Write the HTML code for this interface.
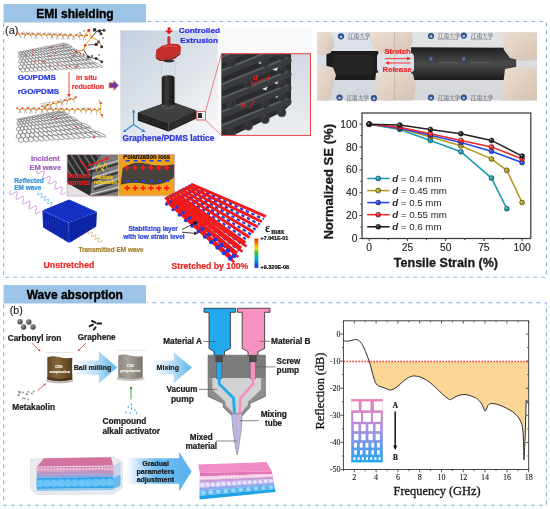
<!DOCTYPE html><html><head><meta charset="utf-8"><style>html,body{margin:0;padding:0;background:#fff;}body{width:550px;height:509px;overflow:hidden;}svg{display:block;}</style></head><body><svg width="550" height="509" viewBox="0 0 550 509"><rect width="550" height="509" fill="#fff"/><defs>
<linearGradient id="rbg" x1="0" y1="0" x2="0.8" y2="1">
 <stop offset="0" stop-color="#c4cfdf"/><stop offset="0.5" stop-color="#dbe1e8"/><stop offset="0.85" stop-color="#eef0f3"/><stop offset="1" stop-color="#f6f7f8"/>
</linearGradient>
<linearGradient id="zbg" x1="0" y1="0" x2="0" y2="1">
 <stop offset="0" stop-color="#d3d9e3"/><stop offset="1" stop-color="#eceef0"/>
</linearGradient>
<linearGradient id="cbar" x1="0" y1="0" x2="0" y2="1">
 <stop offset="0" stop-color="#ff1a00"/><stop offset="0.18" stop-color="#ff8c00"/><stop offset="0.32" stop-color="#f0e000"/>
 <stop offset="0.5" stop-color="#30c030"/><stop offset="0.7" stop-color="#00b0e0"/><stop offset="1" stop-color="#1020e0"/>
</linearGradient>
<linearGradient id="barrow" x1="0" y1="0" x2="1" y2="0">
 <stop offset="0" stop-color="#ffffff"/><stop offset="0.55" stop-color="#b8dcf6"/><stop offset="1" stop-color="#5ab4ee"/>
</linearGradient>
<linearGradient id="barrow2" x1="0" y1="0" x2="1" y2="0">
 <stop offset="0" stop-color="#ffffff"/><stop offset="0.5" stop-color="#bfe0f7"/><stop offset="1" stop-color="#5cb6ef"/>
</linearGradient>
<linearGradient id="barrow3" x1="0" y1="0" x2="1" y2="0">
 <stop offset="0" stop-color="#ffffff"/><stop offset="0.22" stop-color="#b6dbf6"/><stop offset="0.45" stop-color="#70bcf0"/><stop offset="1" stop-color="#5ab2ee"/>
</linearGradient>
<linearGradient id="strip" x1="0" y1="0" x2="0" y2="1">
 <stop offset="0" stop-color="#1e1e1e"/><stop offset="0.5" stop-color="#4a4a4a"/><stop offset="1" stop-color="#1c1c1c"/>
</linearGradient>
<linearGradient id="col" x1="0" y1="0" x2="1" y2="0">
 <stop offset="0" stop-color="#1a1a1a"/><stop offset="0.35" stop-color="#3a3a3a"/><stop offset="1" stop-color="#141414"/>
</linearGradient>
<linearGradient id="brown" x1="0" y1="0" x2="1" y2="0">
 <stop offset="0" stop-color="#614826"/><stop offset="0.4" stop-color="#86683c"/><stop offset="1" stop-color="#543c1c"/>
</linearGradient>
<linearGradient id="grayb" x1="0" y1="0" x2="1" y2="0">
 <stop offset="0" stop-color="#8c8680"/><stop offset="0.4" stop-color="#a8a29a"/><stop offset="1" stop-color="#7a746e"/>
</linearGradient>
<linearGradient id="inset" x1="0" y1="0" x2="0" y2="1">
 <stop offset="0" stop-color="#f27cb6"/><stop offset="0.5" stop-color="#a58fe0"/><stop offset="1" stop-color="#1fa6f2"/>
</linearGradient>
</defs>
<rect x="3.5" y="4" width="142.5" height="18.5" fill="#9DC3E6"/>
<text x="75.00" y="17.60" font-family="'Liberation Sans', Arial, sans-serif" font-size="12" font-weight="bold" fill="#000" stroke="#000" stroke-width="0.35" text-anchor="middle" >EMI shielding</text>
<path d="M3.6,23 V277.3 H546.4 V21.5 H147" fill="none" stroke="#8fb5e3" stroke-width="1.1" stroke-dasharray="4 4"/>
<text x="5.00" y="33.50" font-family="'Liberation Sans', Arial, sans-serif" font-size="11" font-weight="normal" fill="#222" stroke="#222" stroke-width="0.12" text-anchor="start" >(a)</text>
<polygon points="18.0,52.0 66.0,42.5 104.0,67.5 19.0,72.5" fill="#f4f4f4"/>
<path d="M19.2,51.8 L20.5,51.8 L20.6,52.7 L19.4,53.5 L18.1,53.2 L18.0,52.3Z M21.7,51.3 L23.0,51.3 L23.2,52.2 L22.0,53.0 L20.6,52.7 L20.5,51.8Z M24.2,50.8 L25.5,50.8 L25.8,51.7 L24.6,52.6 L23.2,52.2 L23.0,51.3Z M26.6,50.3 L28.0,50.3 L28.3,51.3 L27.3,52.1 L25.8,51.7 L25.5,50.8Z M29.1,49.8 L30.4,49.8 L30.9,50.8 L29.9,51.6 L28.3,51.3 L28.0,50.3Z M31.5,49.3 L32.9,49.4 L33.5,50.3 L32.5,51.2 L30.9,50.8 L30.4,49.8Z M34.0,48.8 L35.4,48.9 L36.0,49.9 L35.1,50.7 L33.5,50.3 L32.9,49.4Z M36.5,48.3 L37.9,48.4 L38.6,49.4 L37.7,50.2 L36.0,49.9 L35.4,48.9Z M38.9,47.9 L40.4,47.9 L41.2,48.9 L40.4,49.8 L38.6,49.4 L37.9,48.4Z M41.4,47.4 L42.9,47.4 L43.8,48.4 L43.0,49.3 L41.2,48.9 L40.4,47.9Z M43.8,46.9 L45.4,46.9 L46.3,48.0 L45.6,48.8 L43.8,48.4 L42.9,47.4Z M46.3,46.4 L47.8,46.5 L48.9,47.5 L48.2,48.3 L46.3,48.0 L45.4,46.9Z M48.8,45.9 L50.3,46.0 L51.5,47.0 L50.9,47.9 L48.9,47.5 L47.8,46.5Z M51.2,45.4 L52.8,45.5 L54.0,46.5 L53.5,47.4 L51.5,47.0 L50.3,46.0Z M53.7,44.9 L55.3,45.0 L56.6,46.1 L56.1,46.9 L54.0,46.5 L52.8,45.5Z M56.2,44.4 L57.8,44.5 L59.2,45.6 L58.7,46.5 L56.6,46.1 L55.3,45.0Z M58.6,44.0 L60.3,44.0 L61.7,45.1 L61.3,46.0 L59.2,45.6 L57.8,44.5Z M61.1,43.5 L62.8,43.6 L64.3,44.6 L64.0,45.5 L61.7,45.1 L60.3,44.0Z M63.5,43.0 L65.2,43.1 L66.9,44.2 L66.6,45.1 L64.3,44.6 L62.8,43.6Z M20.6,52.7 L22.0,53.0 L22.3,54.3 L21.0,55.2 L19.5,54.8 L19.4,53.5Z M23.2,52.2 L24.6,52.6 L25.0,53.9 L23.8,54.8 L22.3,54.3 L22.0,53.0Z M25.8,51.7 L27.3,52.1 L27.7,53.4 L26.6,54.3 L25.0,53.9 L24.6,52.6Z M28.3,51.3 L29.9,51.6 L30.5,52.9 L29.4,53.9 L27.7,53.4 L27.3,52.1Z M30.9,50.8 L32.5,51.2 L33.2,52.5 L32.2,53.4 L30.5,52.9 L29.9,51.6Z M33.5,50.3 L35.1,50.7 L35.9,52.0 L35.0,53.0 L33.2,52.5 L32.5,51.2Z M36.0,49.9 L37.7,50.2 L38.7,51.6 L37.8,52.6 L35.9,52.0 L35.1,50.7Z M38.6,49.4 L40.4,49.8 L41.4,51.1 L40.6,52.1 L38.7,51.6 L37.7,50.2Z M41.2,48.9 L43.0,49.3 L44.2,50.7 L43.4,51.7 L41.4,51.1 L40.4,49.8Z M43.8,48.4 L45.6,48.8 L46.9,50.2 L46.2,51.2 L44.2,50.7 L43.0,49.3Z M46.3,48.0 L48.2,48.3 L49.6,49.8 L49.0,50.8 L46.9,50.2 L45.6,48.8Z M48.9,47.5 L50.9,47.9 L52.4,49.3 L51.8,50.3 L49.6,49.8 L48.2,48.3Z M51.5,47.0 L53.5,47.4 L55.1,48.9 L54.6,49.9 L52.4,49.3 L50.9,47.9Z M54.0,46.5 L56.1,46.9 L57.8,48.4 L57.4,49.4 L55.1,48.9 L53.5,47.4Z M56.6,46.1 L58.7,46.5 L60.6,48.0 L60.2,49.0 L57.8,48.4 L56.1,46.9Z M59.2,45.6 L61.3,46.0 L63.3,47.5 L63.0,48.5 L60.6,48.0 L58.7,46.5Z M61.7,45.1 L64.0,45.5 L66.1,47.0 L65.8,48.1 L63.3,47.5 L61.3,46.0Z M64.3,44.6 L66.6,45.1 L68.8,46.6 L68.6,47.7 L66.1,47.0 L64.0,45.5Z M66.9,44.2 L69.2,44.6 L71.5,46.1 L71.4,47.2 L68.8,46.6 L66.6,45.1Z M19.5,54.8 L21.0,55.2 L21.2,56.7 L19.8,57.7 L18.3,57.2 L18.2,55.7Z M22.3,54.3 L23.8,54.8 L24.1,56.3 L22.8,57.3 L21.2,56.7 L21.0,55.2Z M25.0,53.9 L26.6,54.3 L27.1,55.9 L25.8,56.9 L24.1,56.3 L23.8,54.8Z M27.7,53.4 L29.4,53.9 L30.0,55.4 L28.8,56.5 L27.1,55.9 L26.6,54.3Z M30.5,52.9 L32.2,53.4 L32.9,55.0 L31.8,56.1 L30.0,55.4 L29.4,53.9Z M33.2,52.5 L35.0,53.0 L35.9,54.6 L34.9,55.6 L32.9,55.0 L32.2,53.4Z M35.9,52.0 L37.8,52.6 L38.8,54.2 L37.9,55.2 L35.9,54.6 L35.0,53.0Z M38.7,51.6 L40.6,52.1 L41.8,53.7 L40.9,54.8 L38.8,54.2 L37.8,52.6Z M41.4,51.1 L43.4,51.7 L44.7,53.3 L43.9,54.4 L41.8,53.7 L40.6,52.1Z M44.2,50.7 L46.2,51.2 L47.6,52.9 L46.9,54.0 L44.7,53.3 L43.4,51.7Z M46.9,50.2 L49.0,50.8 L50.6,52.4 L49.9,53.5 L47.6,52.9 L46.2,51.2Z M49.6,49.8 L51.8,50.3 L53.5,52.0 L52.9,53.1 L50.6,52.4 L49.0,50.8Z M52.4,49.3 L54.6,49.9 L56.5,51.6 L55.9,52.7 L53.5,52.0 L51.8,50.3Z M55.1,48.9 L57.4,49.4 L59.4,51.2 L59.0,52.3 L56.5,51.6 L54.6,49.9Z M57.8,48.4 L60.2,49.0 L62.3,50.7 L62.0,51.9 L59.4,51.2 L57.4,49.4Z M60.6,48.0 L63.0,48.5 L65.3,50.3 L65.0,51.4 L62.3,50.7 L60.2,49.0Z M63.3,47.5 L65.8,48.1 L68.2,49.9 L68.0,51.0 L65.3,50.3 L63.0,48.5Z M66.1,47.0 L68.6,47.7 L71.2,49.4 L71.0,50.6 L68.2,49.9 L65.8,48.1Z M68.8,46.6 L71.4,47.2 L74.1,49.0 L74.0,50.2 L71.2,49.4 L68.6,47.7Z M21.2,56.7 L22.8,57.3 L23.1,59.0 L21.7,60.1 L20.0,59.4 L19.8,57.7Z M24.1,56.3 L25.8,56.9 L26.3,58.6 L24.9,59.7 L23.1,59.0 L22.8,57.3Z M27.1,55.9 L28.8,56.5 L29.5,58.2 L28.2,59.3 L26.3,58.6 L25.8,56.9Z M30.0,55.4 L31.8,56.1 L32.6,57.8 L31.4,58.9 L29.5,58.2 L28.8,56.5Z M32.9,55.0 L34.9,55.6 L35.8,57.4 L34.6,58.5 L32.6,57.8 L31.8,56.1Z M35.9,54.6 L37.9,55.2 L39.0,57.0 L37.9,58.1 L35.8,57.4 L34.9,55.6Z M38.8,54.2 L40.9,54.8 L42.1,56.6 L41.1,57.7 L39.0,57.0 L37.9,55.2Z M41.8,53.7 L43.9,54.4 L45.3,56.2 L44.4,57.3 L42.1,56.6 L40.9,54.8Z M44.7,53.3 L46.9,54.0 L48.4,55.8 L47.6,57.0 L45.3,56.2 L43.9,54.4Z M47.6,52.9 L49.9,53.5 L51.6,55.4 L50.9,56.6 L48.4,55.8 L46.9,54.0Z M50.6,52.4 L52.9,53.1 L54.8,55.0 L54.1,56.2 L51.6,55.4 L49.9,53.5Z M53.5,52.0 L55.9,52.7 L57.9,54.6 L57.4,55.8 L54.8,55.0 L52.9,53.1Z M56.5,51.6 L59.0,52.3 L61.1,54.2 L60.6,55.4 L57.9,54.6 L55.9,52.7Z M59.4,51.2 L62.0,51.9 L64.3,53.8 L63.9,55.0 L61.1,54.2 L59.0,52.3Z M62.3,50.7 L65.0,51.4 L67.4,53.4 L67.1,54.6 L64.3,53.8 L62.0,51.9Z M65.3,50.3 L68.0,51.0 L70.6,53.0 L70.4,54.2 L67.4,53.4 L65.0,51.4Z M68.2,49.9 L71.0,50.6 L73.8,52.6 L73.6,53.8 L70.6,53.0 L68.0,51.0Z M71.2,49.4 L74.0,50.2 L76.9,52.2 L76.8,53.4 L73.8,52.6 L71.0,50.6Z M74.1,49.0 L77.0,49.8 L80.1,51.8 L80.1,53.0 L76.9,52.2 L74.0,50.2Z M20.0,59.4 L21.7,60.1 L21.9,61.9 L20.3,63.0 L18.5,62.3 L18.4,60.5Z M23.1,59.0 L24.9,59.7 L25.3,61.5 L23.8,62.7 L21.9,61.9 L21.7,60.1Z M26.3,58.6 L28.2,59.3 L28.7,61.2 L27.3,62.3 L25.3,61.5 L24.9,59.7Z M29.5,58.2 L31.4,58.9 L32.2,60.8 L30.8,62.0 L28.7,61.2 L28.2,59.3Z M32.6,57.8 L34.6,58.5 L35.6,60.4 L34.3,61.6 L32.2,60.8 L31.4,58.9Z M35.8,57.4 L37.9,58.1 L39.0,60.1 L37.8,61.2 L35.6,60.4 L34.6,58.5Z M39.0,57.0 L41.1,57.7 L42.4,59.7 L41.3,60.9 L39.0,60.1 L37.9,58.1Z M42.1,56.6 L44.4,57.3 L45.8,59.3 L44.8,60.5 L42.4,59.7 L41.1,57.7Z M45.3,56.2 L47.6,57.0 L49.2,58.9 L48.3,60.2 L45.8,59.3 L44.4,57.3Z M48.4,55.8 L50.9,56.6 L52.6,58.6 L51.8,59.8 L49.2,58.9 L47.6,57.0Z M51.6,55.4 L54.1,56.2 L56.1,58.2 L55.3,59.4 L52.6,58.6 L50.9,56.6Z M54.8,55.0 L57.4,55.8 L59.5,57.8 L58.8,59.1 L56.1,58.2 L54.1,56.2Z M57.9,54.6 L60.6,55.4 L62.9,57.5 L62.3,58.7 L59.5,57.8 L57.4,55.8Z M61.1,54.2 L63.9,55.0 L66.3,57.1 L65.8,58.4 L62.9,57.5 L60.6,55.4Z M64.3,53.8 L67.1,54.6 L69.7,56.7 L69.3,58.0 L66.3,57.1 L63.9,55.0Z M67.4,53.4 L70.4,54.2 L73.1,56.3 L72.8,57.6 L69.7,56.7 L67.1,54.6Z M70.6,53.0 L73.6,53.8 L76.5,56.0 L76.3,57.3 L73.1,56.3 L70.4,54.2Z M73.8,52.6 L76.8,53.4 L79.9,55.6 L79.8,56.9 L76.5,56.0 L73.6,53.8Z M76.9,52.2 L80.1,53.0 L83.4,55.2 L83.3,56.5 L79.9,55.6 L76.8,53.4Z M21.9,61.9 L23.8,62.7 L24.2,64.6 L22.5,65.8 L20.5,65.0 L20.3,63.0Z M25.3,61.5 L27.3,62.3 L27.8,64.3 L26.2,65.5 L24.2,64.6 L23.8,62.7Z M28.7,61.2 L30.8,62.0 L31.5,64.0 L30.0,65.2 L27.8,64.3 L27.3,62.3Z M32.2,60.8 L34.3,61.6 L35.2,63.6 L33.8,64.8 L31.5,64.0 L30.8,62.0Z M35.6,60.4 L37.8,61.2 L38.9,63.3 L37.5,64.5 L35.2,63.6 L34.3,61.6Z M39.0,60.1 L41.3,60.9 L42.6,63.0 L41.3,64.2 L38.9,63.3 L37.8,61.2Z M42.4,59.7 L44.8,60.5 L46.2,62.6 L45.1,63.9 L42.6,63.0 L41.3,60.9Z M45.8,59.3 L48.3,60.2 L49.9,62.3 L48.9,63.5 L46.2,62.6 L44.8,60.5Z M49.2,58.9 L51.8,59.8 L53.6,61.9 L52.6,63.2 L49.9,62.3 L48.3,60.2Z M52.6,58.6 L55.3,59.4 L57.3,61.6 L56.4,62.9 L53.6,61.9 L51.8,59.8Z M56.1,58.2 L58.8,59.1 L61.0,61.3 L60.2,62.5 L57.3,61.6 L55.3,59.4Z M59.5,57.8 L62.3,58.7 L64.6,60.9 L63.9,62.2 L61.0,61.3 L58.8,59.1Z M62.9,57.5 L65.8,58.4 L68.3,60.6 L67.7,61.9 L64.6,60.9 L62.3,58.7Z M66.3,57.1 L69.3,58.0 L72.0,60.2 L71.5,61.6 L68.3,60.6 L65.8,58.4Z M69.7,56.7 L72.8,57.6 L75.7,59.9 L75.3,61.2 L72.0,60.2 L69.3,58.0Z M73.1,56.3 L76.3,57.3 L79.4,59.6 L79.0,60.9 L75.7,59.9 L72.8,57.6Z M76.5,56.0 L79.8,56.9 L83.0,59.2 L82.8,60.6 L79.4,59.6 L76.3,57.3Z M79.9,55.6 L83.3,56.5 L86.7,58.9 L86.6,60.3 L83.0,59.2 L79.8,56.9Z M83.4,55.2 L86.8,56.2 L90.4,58.5 L90.3,59.9 L86.7,58.9 L83.3,56.5Z M20.5,65.0 L22.5,65.8 L22.8,67.9 L20.9,69.1 L18.8,68.2 L18.7,66.2Z M24.2,64.6 L26.2,65.5 L26.7,67.6 L24.9,68.8 L22.8,67.9 L22.5,65.8Z M27.8,64.3 L30.0,65.2 L30.7,67.3 L29.0,68.5 L26.7,67.6 L26.2,65.5Z M31.5,64.0 L33.8,64.8 L34.6,67.0 L33.0,68.2 L30.7,67.3 L30.0,65.2Z M35.2,63.6 L37.5,64.5 L38.6,66.7 L37.1,67.9 L34.6,67.0 L33.8,64.8Z M38.9,63.3 L41.3,64.2 L42.6,66.4 L41.2,67.6 L38.6,66.7 L37.5,64.5Z M42.6,63.0 L45.1,63.9 L46.5,66.1 L45.2,67.3 L42.6,66.4 L41.3,64.2Z M46.2,62.6 L48.9,63.5 L50.5,65.8 L49.3,67.1 L46.5,66.1 L45.1,63.9Z M49.9,62.3 L52.6,63.2 L54.4,65.5 L53.3,66.8 L50.5,65.8 L48.9,63.5Z M53.6,61.9 L56.4,62.9 L58.4,65.2 L57.4,66.5 L54.4,65.5 L52.6,63.2Z M57.3,61.6 L60.2,62.5 L62.4,64.8 L61.5,66.2 L58.4,65.2 L56.4,62.9Z M61.0,61.3 L63.9,62.2 L66.3,64.5 L65.5,65.9 L62.4,64.8 L60.2,62.5Z M64.6,60.9 L67.7,61.9 L70.3,64.2 L69.6,65.6 L66.3,64.5 L63.9,62.2Z M68.3,60.6 L71.5,61.6 L74.2,63.9 L73.6,65.3 L70.3,64.2 L67.7,61.9Z M72.0,60.2 L75.3,61.2 L78.2,63.6 L77.7,65.0 L74.2,63.9 L71.5,61.6Z M75.7,59.9 L79.0,60.9 L82.2,63.3 L81.7,64.7 L78.2,63.6 L75.3,61.2Z M79.4,59.6 L82.8,60.6 L86.1,63.0 L85.8,64.4 L82.2,63.3 L79.0,60.9Z M83.0,59.2 L86.6,60.3 L90.1,62.7 L89.9,64.1 L86.1,63.0 L82.8,60.6Z M86.7,58.9 L90.3,59.9 L94.0,62.4 L93.9,63.8 L90.1,62.7 L86.6,60.3Z M22.8,67.9 L24.9,68.8 L25.3,71.0 L23.4,72.2 L21.1,71.3 L20.9,69.1Z M26.7,67.6 L29.0,68.5 L29.6,70.7 L27.7,72.0 L25.3,71.0 L24.9,68.8Z M30.7,67.3 L33.0,68.2 L33.8,70.5 L32.1,71.7 L29.6,70.7 L29.0,68.5Z M34.6,67.0 L37.1,67.9 L38.1,70.2 L36.4,71.5 L33.8,70.5 L33.0,68.2Z M38.6,66.7 L41.2,67.6 L42.4,69.9 L40.8,71.2 L38.1,70.2 L37.1,67.9Z M42.6,66.4 L45.2,67.3 L46.6,69.7 L45.2,71.0 L42.4,69.9 L41.2,67.6Z M46.5,66.1 L49.3,67.1 L50.9,69.4 L49.5,70.7 L46.6,69.7 L45.2,67.3Z M50.5,65.8 L53.3,66.8 L55.1,69.1 L53.9,70.4 L50.9,69.4 L49.3,67.1Z M54.4,65.5 L57.4,66.5 L59.4,68.8 L58.2,70.2 L55.1,69.1 L53.3,66.8Z M58.4,65.2 L61.5,66.2 L63.6,68.6 L62.6,69.9 L59.4,68.8 L57.4,66.5Z M62.4,64.8 L65.5,65.9 L67.9,68.3 L66.9,69.7 L63.6,68.6 L61.5,66.2Z M66.3,64.5 L69.6,65.6 L72.2,68.0 L71.3,69.4 L67.9,68.3 L65.5,65.9Z M70.3,64.2 L73.6,65.3 L76.4,67.8 L75.7,69.2 L72.2,68.0 L69.6,65.6Z M74.2,63.9 L77.7,65.0 L80.7,67.5 L80.0,68.9 L76.4,67.8 L73.6,65.3Z M78.2,63.6 L81.7,64.7 L84.9,67.2 L84.4,68.7 L80.7,67.5 L77.7,65.0Z M82.2,63.3 L85.8,64.4 L89.2,67.0 L88.7,68.4 L84.9,67.2 L81.7,64.7Z M86.1,63.0 L89.9,64.1 L93.4,66.7 L93.1,68.1 L89.2,67.0 L85.8,64.4Z M90.1,62.7 L93.9,63.8 L97.7,66.4 L97.5,67.9 L93.4,66.7 L89.9,64.1Z M94.0,62.4 L98.0,63.5 L102.0,66.2 L101.8,67.6 L97.7,66.4 L93.9,63.8Z" fill="none" stroke="#7a7a7a" stroke-width="0.6"/>
<circle cx="34.8" cy="61.5" r="0.75" fill="#e02828"/>
<circle cx="44.6" cy="61.9" r="0.75" fill="#e02828"/>
<circle cx="49.6" cy="47.6" r="0.75" fill="#e02828"/>
<circle cx="19.9" cy="69.1" r="0.75" fill="#e02828"/>
<circle cx="32.9" cy="54.6" r="0.75" fill="#e02828"/>
<circle cx="83.6" cy="54.3" r="0.75" fill="#e02828"/>
<circle cx="73.4" cy="55.6" r="0.75" fill="#e02828"/>
<circle cx="52.4" cy="49.4" r="0.75" fill="#e02828"/>
<circle cx="69.7" cy="66.2" r="0.75" fill="#e02828"/>
<circle cx="58.2" cy="64.0" r="0.75" fill="#e02828"/>
<circle cx="51.9" cy="47.1" r="0.75" fill="#e02828"/>
<circle cx="71.6" cy="58.9" r="0.75" fill="#e02828"/>
<circle cx="32.8" cy="49.8" r="0.75" fill="#e02828"/>
<circle cx="75.2" cy="55.3" r="0.75" fill="#e02828"/>
<circle cx="76.8" cy="66.0" r="0.75" fill="#e02828"/>
<circle cx="77.5" cy="67.1" r="0.75" fill="#e02828"/>
<circle cx="49.5" cy="66.1" r="0.75" fill="#e02828"/>
<circle cx="55.7" cy="68.8" r="0.75" fill="#e02828"/>
<circle cx="63.5" cy="46.0" r="0.75" fill="#e02828"/>
<circle cx="25.8" cy="55.3" r="0.75" fill="#e02828"/>
<circle cx="80.4" cy="53.7" r="0.75" fill="#e02828"/>
<circle cx="55.4" cy="53.1" r="0.75" fill="#e02828"/>
<circle cx="50.0" cy="56.0" r="0.75" fill="#e02828"/>
<circle cx="43.0" cy="61.6" r="0.75" fill="#e02828"/>
<circle cx="66.5" cy="67.4" r="0.75" fill="#e02828"/>
<circle cx="75.1" cy="67.4" r="0.75" fill="#e02828"/>
<polygon points="17.0,119.0 62.0,110.5 108.0,137.0 16.0,143.0" fill="#f4f4f4"/>
<path d="M18.3,118.8 L19.6,118.7 L19.6,119.5 L18.3,120.3 L17.0,120.0 L17.0,119.2Z M20.9,118.3 L22.2,118.2 L22.3,119.0 L21.1,119.8 L19.6,119.5 L19.6,118.7Z M23.4,117.8 L24.8,117.7 L25.0,118.6 L23.8,119.3 L22.3,119.0 L22.2,118.2Z M26.0,117.3 L27.4,117.3 L27.7,118.1 L26.5,118.9 L25.0,118.6 L24.8,117.7Z M28.6,116.8 L30.0,116.8 L30.4,117.6 L29.3,118.4 L27.7,118.1 L27.4,117.3Z M31.1,116.3 L32.5,116.3 L33.1,117.1 L32.0,117.9 L30.4,117.6 L30.0,116.8Z M33.7,115.8 L35.1,115.8 L35.7,116.6 L34.8,117.4 L33.1,117.1 L32.5,116.3Z M36.3,115.4 L37.7,115.3 L38.4,116.2 L37.5,117.0 L35.7,116.6 L35.1,115.8Z M38.9,114.9 L40.3,114.8 L41.1,115.7 L40.3,116.5 L38.4,116.2 L37.7,115.3Z M41.4,114.4 L42.9,114.3 L43.8,115.2 L43.0,116.0 L41.1,115.7 L40.3,114.8Z M44.0,113.9 L45.5,113.9 L46.5,114.7 L45.7,115.5 L43.8,115.2 L42.9,114.3Z M46.6,113.4 L48.1,113.4 L49.2,114.2 L48.5,115.1 L46.5,114.7 L45.5,113.9Z M49.1,112.9 L50.7,112.9 L51.8,113.8 L51.2,114.6 L49.2,114.2 L48.1,113.4Z M51.7,112.4 L53.3,112.4 L54.5,113.3 L54.0,114.1 L51.8,113.8 L50.7,112.9Z M54.3,112.0 L55.9,111.9 L57.2,112.8 L56.7,113.6 L54.5,113.3 L53.3,112.4Z M56.9,111.5 L58.5,111.4 L59.9,112.3 L59.5,113.1 L57.2,112.8 L55.9,111.9Z M59.4,111.0 L61.1,111.0 L62.6,111.8 L62.2,112.7 L59.9,112.3 L58.5,111.4Z M19.6,119.5 L21.1,119.8 L21.2,121.1 L19.8,122.1 L18.3,121.6 L18.3,120.3Z M22.3,119.0 L23.8,119.3 L24.1,120.6 L22.8,121.6 L21.2,121.1 L21.1,119.8Z M25.0,118.6 L26.5,118.9 L27.0,120.2 L25.8,121.2 L24.1,120.6 L23.8,119.3Z M27.7,118.1 L29.3,118.4 L29.9,119.7 L28.7,120.7 L27.0,120.2 L26.5,118.9Z M30.4,117.6 L32.0,117.9 L32.8,119.2 L31.7,120.2 L29.9,119.7 L29.3,118.4Z M33.1,117.1 L34.8,117.4 L35.6,118.8 L34.7,119.8 L32.8,119.2 L32.0,117.9Z M35.7,116.6 L37.5,117.0 L38.5,118.3 L37.6,119.3 L35.6,118.8 L34.8,117.4Z M38.4,116.2 L40.3,116.5 L41.4,117.8 L40.6,118.8 L38.5,118.3 L37.5,117.0Z M41.1,115.7 L43.0,116.0 L44.3,117.4 L43.6,118.4 L41.4,117.8 L40.3,116.5Z M43.8,115.2 L45.7,115.5 L47.2,116.9 L46.5,117.9 L44.3,117.4 L43.0,116.0Z M46.5,114.7 L48.5,115.1 L50.1,116.4 L49.5,117.4 L47.2,116.9 L45.7,115.5Z M49.2,114.2 L51.2,114.6 L53.0,116.0 L52.5,117.0 L50.1,116.4 L48.5,115.1Z M51.8,113.8 L54.0,114.1 L55.9,115.5 L55.5,116.5 L53.0,116.0 L51.2,114.6Z M54.5,113.3 L56.7,113.6 L58.7,115.0 L58.4,116.1 L55.9,115.5 L54.0,114.1Z M57.2,112.8 L59.5,113.1 L61.6,114.6 L61.4,115.6 L58.7,115.0 L56.7,113.6Z M59.9,112.3 L62.2,112.7 L64.5,114.1 L64.4,115.1 L61.6,114.6 L59.5,113.1Z M62.6,111.8 L64.9,112.2 L67.4,113.6 L67.3,114.7 L64.5,114.1 L62.2,112.7Z M18.3,121.6 L19.8,122.1 L19.9,123.7 L18.4,124.8 L16.8,124.2 L16.9,122.6Z M21.2,121.1 L22.8,121.6 L23.1,123.3 L21.6,124.4 L19.9,123.7 L19.8,122.1Z M24.1,120.6 L25.8,121.2 L26.2,122.8 L24.9,123.9 L23.1,123.3 L22.8,121.6Z M27.0,120.2 L28.7,120.7 L29.4,122.4 L28.1,123.5 L26.2,122.8 L25.8,121.2Z M29.9,119.7 L31.7,120.2 L32.5,121.9 L31.4,123.0 L29.4,122.4 L28.7,120.7Z M32.8,119.2 L34.7,119.8 L35.7,121.5 L34.6,122.6 L32.5,121.9 L31.7,120.2Z M35.6,118.8 L37.6,119.3 L38.8,121.0 L37.9,122.1 L35.7,121.5 L34.7,119.8Z M38.5,118.3 L40.6,118.8 L42.0,120.5 L41.1,121.7 L38.8,121.0 L37.6,119.3Z M41.4,117.8 L43.6,118.4 L45.1,120.1 L44.4,121.3 L42.0,120.5 L40.6,118.8Z M44.3,117.4 L46.5,117.9 L48.3,119.6 L47.6,120.8 L45.1,120.1 L43.6,118.4Z M47.2,116.9 L49.5,117.4 L51.5,119.2 L50.9,120.4 L48.3,119.6 L46.5,117.9Z M50.1,116.4 L52.5,117.0 L54.6,118.7 L54.1,119.9 L51.5,119.2 L49.5,117.4Z M53.0,116.0 L55.5,116.5 L57.8,118.3 L57.4,119.5 L54.6,118.7 L52.5,117.0Z M55.9,115.5 L58.4,116.1 L60.9,117.8 L60.6,119.0 L57.8,118.3 L55.5,116.5Z M58.7,115.0 L61.4,115.6 L64.1,117.4 L63.9,118.6 L60.9,117.8 L58.4,116.1Z M61.6,114.6 L64.4,115.1 L67.2,116.9 L67.1,118.1 L64.1,117.4 L61.4,115.6Z M64.5,114.1 L67.3,114.7 L70.4,116.5 L70.4,117.7 L67.2,116.9 L64.4,115.1Z M19.9,123.7 L21.6,124.4 L21.9,126.3 L20.2,127.6 L18.4,126.8 L18.4,124.8Z M23.1,123.3 L24.9,123.9 L25.3,125.9 L23.8,127.1 L21.9,126.3 L21.6,124.4Z M26.2,122.8 L28.1,123.5 L28.8,125.4 L27.4,126.7 L25.3,125.9 L24.9,123.9Z M29.4,122.4 L31.4,123.0 L32.3,125.0 L30.9,126.3 L28.8,125.4 L28.1,123.5Z M32.5,121.9 L34.6,122.6 L35.7,124.6 L34.5,125.8 L32.3,125.0 L31.4,123.0Z M35.7,121.5 L37.9,122.1 L39.2,124.1 L38.1,125.4 L35.7,124.6 L34.6,122.6Z M38.8,121.0 L41.1,121.7 L42.7,123.7 L41.7,125.0 L39.2,124.1 L37.9,122.1Z M42.0,120.5 L44.4,121.3 L46.1,123.3 L45.3,124.5 L42.7,123.7 L41.1,121.7Z M45.1,120.1 L47.6,120.8 L49.6,122.8 L48.8,124.1 L46.1,123.3 L44.4,121.3Z M48.3,119.6 L50.9,120.4 L53.0,122.4 L52.4,123.7 L49.6,122.8 L47.6,120.8Z M51.5,119.2 L54.1,119.9 L56.5,121.9 L56.0,123.2 L53.0,122.4 L50.9,120.4Z M54.6,118.7 L57.4,119.5 L60.0,121.5 L59.6,122.8 L56.5,121.9 L54.1,119.9Z M57.8,118.3 L60.6,119.0 L63.4,121.1 L63.1,122.4 L60.0,121.5 L57.4,119.5Z M60.9,117.8 L63.9,118.6 L66.9,120.6 L66.7,121.9 L63.4,121.1 L60.6,119.0Z M64.1,117.4 L67.1,118.1 L70.4,120.2 L70.3,121.5 L66.9,120.6 L63.9,118.6Z M67.2,116.9 L70.4,117.7 L73.8,119.8 L73.9,121.1 L70.4,120.2 L67.1,118.1Z M70.4,116.5 L73.6,117.2 L77.3,119.3 L77.5,120.7 L73.8,119.8 L70.4,117.7Z M18.4,126.8 L20.2,127.6 L20.4,129.7 L18.5,131.1 L16.5,130.2 L16.6,128.0Z M21.9,126.3 L23.8,127.1 L24.2,129.3 L22.4,130.7 L20.4,129.7 L20.2,127.6Z M25.3,125.9 L27.4,126.7 L28.0,128.9 L26.4,130.3 L24.2,129.3 L23.8,127.1Z M28.8,125.4 L30.9,126.3 L31.8,128.5 L30.3,129.8 L28.0,128.9 L27.4,126.7Z M32.3,125.0 L34.5,125.8 L35.6,128.1 L34.2,129.4 L31.8,128.5 L30.9,126.3Z M35.7,124.6 L38.1,125.4 L39.5,127.6 L38.2,129.0 L35.6,128.1 L34.5,125.8Z M39.2,124.1 L41.7,125.0 L43.3,127.2 L42.1,128.6 L39.5,127.6 L38.1,125.4Z M42.7,123.7 L45.3,124.5 L47.1,126.8 L46.1,128.2 L43.3,127.2 L41.7,125.0Z M46.1,123.3 L48.8,124.1 L50.9,126.4 L50.0,127.8 L47.1,126.8 L45.3,124.5Z M49.6,122.8 L52.4,123.7 L54.7,126.0 L54.0,127.4 L50.9,126.4 L48.8,124.1Z M53.0,122.4 L56.0,123.2 L58.6,125.5 L57.9,127.0 L54.7,126.0 L52.4,123.7Z M56.5,121.9 L59.6,122.8 L62.4,125.1 L61.9,126.5 L58.6,125.5 L56.0,123.2Z M60.0,121.5 L63.1,122.4 L66.2,124.7 L65.8,126.1 L62.4,125.1 L59.6,122.8Z M63.4,121.1 L66.7,121.9 L70.0,124.3 L69.8,125.7 L66.2,124.7 L63.1,122.4Z M66.9,120.6 L70.3,121.5 L73.8,123.9 L73.7,125.3 L70.0,124.3 L66.7,121.9Z M70.4,120.2 L73.9,121.1 L77.6,123.4 L77.7,124.9 L73.8,123.9 L70.3,121.5Z M73.8,119.8 L77.5,120.7 L81.5,123.0 L81.6,124.5 L77.6,123.4 L73.9,121.1Z M20.4,129.7 L22.4,130.7 L22.7,133.1 L20.7,134.5 L18.5,133.5 L18.5,131.1Z M24.2,129.3 L26.4,130.3 L26.9,132.7 L25.0,134.1 L22.7,133.1 L22.4,130.7Z M28.0,128.9 L30.3,129.8 L31.1,132.3 L29.4,133.7 L26.9,132.7 L26.4,130.3Z M31.8,128.5 L34.2,129.4 L35.3,131.9 L33.7,133.3 L31.1,132.3 L30.3,129.8Z M35.6,128.1 L38.2,129.0 L39.6,131.5 L38.1,132.9 L35.3,131.9 L34.2,129.4Z M39.5,127.6 L42.1,128.6 L43.8,131.1 L42.4,132.6 L39.6,131.5 L38.2,129.0Z M43.3,127.2 L46.1,128.2 L48.0,130.7 L46.8,132.2 L43.8,131.1 L42.1,128.6Z M47.1,126.8 L50.0,127.8 L52.2,130.3 L51.1,131.8 L48.0,130.7 L46.1,128.2Z M50.9,126.4 L54.0,127.4 L56.4,129.9 L55.5,131.4 L52.2,130.3 L50.0,127.8Z M54.7,126.0 L57.9,127.0 L60.6,129.5 L59.8,131.0 L56.4,129.9 L54.0,127.4Z M58.6,125.5 L61.9,126.5 L64.8,129.1 L64.2,130.6 L60.6,129.5 L57.9,127.0Z M62.4,125.1 L65.8,126.1 L69.0,128.7 L68.5,130.2 L64.8,129.1 L61.9,126.5Z M66.2,124.7 L69.8,125.7 L73.3,128.3 L72.9,129.8 L69.0,128.7 L65.8,126.1Z M70.0,124.3 L73.7,125.3 L77.5,127.9 L77.2,129.4 L73.3,128.3 L69.8,125.7Z M73.8,123.9 L77.7,124.9 L81.7,127.5 L81.6,129.0 L77.5,127.9 L73.7,125.3Z M77.6,123.4 L81.6,124.5 L85.9,127.1 L86.0,128.6 L81.7,127.5 L77.7,124.9Z M81.5,123.0 L85.6,124.1 L90.1,126.7 L90.3,128.3 L85.9,127.1 L81.6,124.5Z M18.5,133.5 L20.7,134.5 L20.9,137.1 L18.6,138.6 L16.2,137.5 L16.3,134.9Z M22.7,133.1 L25.0,134.1 L25.5,136.7 L23.4,138.3 L20.9,137.1 L20.7,134.5Z M26.9,132.7 L29.4,133.7 L30.1,136.3 L28.1,137.9 L25.5,136.7 L25.0,134.1Z M31.1,132.3 L33.7,133.3 L34.8,136.0 L32.9,137.5 L30.1,136.3 L29.4,133.7Z M35.3,131.9 L38.1,132.9 L39.4,135.6 L37.7,137.2 L34.8,136.0 L33.7,133.3Z M39.6,131.5 L42.4,132.6 L44.1,135.2 L42.5,136.8 L39.4,135.6 L38.1,132.9Z M43.8,131.1 L46.8,132.2 L48.7,134.8 L47.3,136.4 L44.1,135.2 L42.4,132.6Z M48.0,130.7 L51.1,131.8 L53.3,134.5 L52.1,136.1 L48.7,134.8 L46.8,132.2Z M52.2,130.3 L55.5,131.4 L58.0,134.1 L56.9,135.7 L53.3,134.5 L51.1,131.8Z M56.4,129.9 L59.8,131.0 L62.6,133.7 L61.7,135.3 L58.0,134.1 L55.5,131.4Z M60.6,129.5 L64.2,130.6 L67.3,133.3 L66.5,135.0 L62.6,133.7 L59.8,131.0Z M64.8,129.1 L68.5,130.2 L71.9,133.0 L71.2,134.6 L67.3,133.3 L64.2,130.6Z M69.0,128.7 L72.9,129.8 L76.5,132.6 L76.0,134.2 L71.9,133.0 L68.5,130.2Z M73.3,128.3 L77.2,129.4 L81.2,132.2 L80.8,133.8 L76.5,132.6 L72.9,129.8Z M77.5,127.9 L81.6,129.0 L85.8,131.8 L85.6,133.5 L81.2,132.2 L77.2,129.4Z M81.7,127.5 L86.0,128.6 L90.5,131.5 L90.4,133.1 L85.8,131.8 L81.6,129.0Z M85.9,127.1 L90.3,128.3 L95.1,131.1 L95.2,132.7 L90.5,131.5 L86.0,128.6Z M20.9,137.1 L23.4,138.3 L23.7,141.0 L21.3,142.7 L18.6,141.4 L18.6,138.6Z M25.5,136.7 L28.1,137.9 L28.8,140.7 L26.5,142.3 L23.7,141.0 L23.4,138.3Z M30.1,136.3 L32.9,137.5 L33.9,140.3 L31.8,142.0 L28.8,140.7 L28.1,137.9Z M34.8,136.0 L37.7,137.2 L39.0,140.0 L37.0,141.6 L33.9,140.3 L32.9,137.5Z M39.4,135.6 L42.5,136.8 L44.1,139.6 L42.3,141.3 L39.0,140.0 L37.7,137.2Z M44.1,135.2 L47.3,136.4 L49.2,139.3 L47.5,140.9 L44.1,139.6 L42.5,136.8Z M48.7,134.8 L52.1,136.1 L54.3,138.9 L52.8,140.6 L49.2,139.3 L47.3,136.4Z M53.3,134.5 L56.9,135.7 L59.4,138.6 L58.1,140.3 L54.3,138.9 L52.1,136.1Z M58.0,134.1 L61.7,135.3 L64.5,138.2 L63.3,139.9 L59.4,138.6 L56.9,135.7Z M62.6,133.7 L66.5,135.0 L69.6,137.9 L68.6,139.6 L64.5,138.2 L61.7,135.3Z M67.3,133.3 L71.2,134.6 L74.7,137.5 L73.8,139.2 L69.6,137.9 L66.5,135.0Z M71.9,133.0 L76.0,134.2 L79.8,137.2 L79.1,138.9 L74.7,137.5 L71.2,134.6Z M76.5,132.6 L80.8,133.8 L84.9,136.8 L84.3,138.5 L79.8,137.2 L76.0,134.2Z M81.2,132.2 L85.6,133.5 L90.0,136.5 L89.6,138.2 L84.9,136.8 L80.8,133.8Z M85.8,131.8 L90.4,133.1 L95.1,136.1 L94.9,137.9 L90.0,136.5 L85.6,133.5Z M90.5,131.5 L95.2,132.7 L100.2,135.8 L100.1,137.5 L95.1,136.1 L90.4,133.1Z M95.1,131.1 L100.0,132.4 L105.3,135.4 L105.4,137.2 L100.2,135.8 L95.2,132.7Z" fill="none" stroke="#7a7a7a" stroke-width="0.65"/>
<circle cx="94.4" cy="137.6" r="0.8" fill="#e02828"/>
<circle cx="52.2" cy="117.5" r="0.8" fill="#e02828"/>
<circle cx="93.8" cy="136.9" r="0.8" fill="#e02828"/>
<circle cx="81.3" cy="126.3" r="0.8" fill="#e02828"/>
<circle cx="56.0" cy="118.4" r="0.8" fill="#e02828"/>
<circle cx="76.3" cy="126.9" r="0.8" fill="#e02828"/>
<polyline points="17.0,33.2 19.7,34.9 22.4,33.4 25.1,35.0 27.8,33.5 30.5,35.2 33.2,33.7 35.8,35.3 38.5,33.8 41.2,35.5 43.9,34.0 46.6,35.6 49.3,34.1 52.0,35.8 54.7,34.3 57.4,36.0 60.1,34.4 62.8,36.1 65.5,34.6 68.2,36.3 70.8,34.7 73.5,36.4 76.2,34.9 78.9,36.6 81.6,35.0 84.3,36.7 87.0,35.2" fill="none" stroke="#e8a630" stroke-width="1.1"/><circle cx="17.0" cy="33.2" r="0.85" fill="#e03a2a"/><line x1="19.7" y1="34.9" x2="18.4" y2="31.7" stroke="#8a8a8a" stroke-width="0.55"/><circle cx="18.4" cy="31.7" r="0.55" fill="#b4b4b4"/><line x1="19.7" y1="34.9" x2="20.9" y2="37.5" stroke="#8a8a8a" stroke-width="0.55"/><circle cx="20.9" cy="37.5" r="0.55" fill="#b4b4b4"/><circle cx="19.7" cy="34.9" r="0.7" fill="#d8a040"/><circle cx="22.4" cy="33.4" r="0.85" fill="#e03a2a"/><line x1="25.1" y1="35.0" x2="23.8" y2="31.8" stroke="#8a8a8a" stroke-width="0.55"/><circle cx="23.8" cy="31.8" r="0.55" fill="#b4b4b4"/><line x1="25.1" y1="35.0" x2="26.6" y2="32.2" stroke="#8a8a8a" stroke-width="0.55"/><circle cx="26.6" cy="32.2" r="0.55" fill="#b4b4b4"/><line x1="25.1" y1="35.0" x2="24.3" y2="38.0" stroke="#8a8a8a" stroke-width="0.55"/><circle cx="24.3" cy="38.0" r="0.55" fill="#b4b4b4"/><circle cx="25.1" cy="35.0" r="0.7" fill="#d8a040"/><circle cx="27.8" cy="33.5" r="0.85" fill="#e03a2a"/><line x1="30.5" y1="35.2" x2="29.2" y2="32.0" stroke="#8a8a8a" stroke-width="0.55"/><circle cx="29.2" cy="32.0" r="0.55" fill="#b4b4b4"/><line x1="30.5" y1="35.2" x2="32.0" y2="32.4" stroke="#8a8a8a" stroke-width="0.55"/><circle cx="32.0" cy="32.4" r="0.55" fill="#b4b4b4"/><line x1="30.5" y1="35.2" x2="31.7" y2="37.8" stroke="#8a8a8a" stroke-width="0.55"/><circle cx="31.7" cy="37.8" r="0.55" fill="#b4b4b4"/><circle cx="30.5" cy="35.2" r="0.7" fill="#d8a040"/><circle cx="33.2" cy="33.7" r="0.85" fill="#e03a2a"/><line x1="35.8" y1="35.3" x2="37.3" y2="32.5" stroke="#8a8a8a" stroke-width="0.55"/><circle cx="37.3" cy="32.5" r="0.55" fill="#b4b4b4"/><line x1="35.8" y1="35.3" x2="35.0" y2="38.3" stroke="#8a8a8a" stroke-width="0.55"/><circle cx="35.0" cy="38.3" r="0.55" fill="#b4b4b4"/><line x1="35.8" y1="35.3" x2="37.0" y2="37.9" stroke="#8a8a8a" stroke-width="0.55"/><circle cx="37.0" cy="37.9" r="0.55" fill="#b4b4b4"/><circle cx="35.8" cy="35.3" r="0.7" fill="#d8a040"/><circle cx="38.5" cy="33.8" r="0.85" fill="#e03a2a"/><line x1="41.2" y1="35.5" x2="39.9" y2="32.3" stroke="#8a8a8a" stroke-width="0.55"/><circle cx="39.9" cy="32.3" r="0.55" fill="#b4b4b4"/><line x1="41.2" y1="35.5" x2="42.4" y2="38.1" stroke="#8a8a8a" stroke-width="0.55"/><circle cx="42.4" cy="38.1" r="0.55" fill="#b4b4b4"/><circle cx="41.2" cy="35.5" r="0.7" fill="#d8a040"/><circle cx="43.9" cy="34.0" r="0.85" fill="#e03a2a"/><line x1="46.6" y1="35.6" x2="45.3" y2="32.4" stroke="#8a8a8a" stroke-width="0.55"/><circle cx="45.3" cy="32.4" r="0.55" fill="#b4b4b4"/><line x1="46.6" y1="35.6" x2="48.1" y2="32.8" stroke="#8a8a8a" stroke-width="0.55"/><circle cx="48.1" cy="32.8" r="0.55" fill="#b4b4b4"/><line x1="46.6" y1="35.6" x2="47.8" y2="38.2" stroke="#8a8a8a" stroke-width="0.55"/><circle cx="47.8" cy="38.2" r="0.55" fill="#b4b4b4"/><circle cx="46.6" cy="35.6" r="0.7" fill="#d8a040"/><circle cx="49.3" cy="34.1" r="0.85" fill="#e03a2a"/><line x1="52.0" y1="35.8" x2="50.7" y2="32.6" stroke="#8a8a8a" stroke-width="0.55"/><circle cx="50.7" cy="32.6" r="0.55" fill="#b4b4b4"/><line x1="52.0" y1="35.8" x2="53.5" y2="33.0" stroke="#8a8a8a" stroke-width="0.55"/><circle cx="53.5" cy="33.0" r="0.55" fill="#b4b4b4"/><line x1="52.0" y1="35.8" x2="51.2" y2="38.8" stroke="#8a8a8a" stroke-width="0.55"/><circle cx="51.2" cy="38.8" r="0.55" fill="#b4b4b4"/><line x1="52.0" y1="35.8" x2="53.2" y2="38.4" stroke="#8a8a8a" stroke-width="0.55"/><circle cx="53.2" cy="38.4" r="0.55" fill="#b4b4b4"/><circle cx="52.0" cy="35.8" r="0.7" fill="#d8a040"/><circle cx="54.7" cy="34.3" r="0.85" fill="#e03a2a"/><line x1="57.4" y1="36.0" x2="56.1" y2="32.8" stroke="#8a8a8a" stroke-width="0.55"/><circle cx="56.1" cy="32.8" r="0.55" fill="#b4b4b4"/><line x1="57.4" y1="36.0" x2="58.9" y2="33.2" stroke="#8a8a8a" stroke-width="0.55"/><circle cx="58.9" cy="33.2" r="0.55" fill="#b4b4b4"/><line x1="57.4" y1="36.0" x2="56.6" y2="39.0" stroke="#8a8a8a" stroke-width="0.55"/><circle cx="56.6" cy="39.0" r="0.55" fill="#b4b4b4"/><line x1="57.4" y1="36.0" x2="58.6" y2="38.6" stroke="#8a8a8a" stroke-width="0.55"/><circle cx="58.6" cy="38.6" r="0.55" fill="#b4b4b4"/><circle cx="57.4" cy="36.0" r="0.7" fill="#d8a040"/><circle cx="60.1" cy="34.4" r="0.85" fill="#e03a2a"/><line x1="62.8" y1="36.1" x2="61.5" y2="32.9" stroke="#8a8a8a" stroke-width="0.55"/><circle cx="61.5" cy="32.9" r="0.55" fill="#b4b4b4"/><line x1="62.8" y1="36.1" x2="64.3" y2="33.3" stroke="#8a8a8a" stroke-width="0.55"/><circle cx="64.3" cy="33.3" r="0.55" fill="#b4b4b4"/><line x1="62.8" y1="36.1" x2="62.0" y2="39.1" stroke="#8a8a8a" stroke-width="0.55"/><circle cx="62.0" cy="39.1" r="0.55" fill="#b4b4b4"/><line x1="62.8" y1="36.1" x2="64.0" y2="38.7" stroke="#8a8a8a" stroke-width="0.55"/><circle cx="64.0" cy="38.7" r="0.55" fill="#b4b4b4"/><circle cx="62.8" cy="36.1" r="0.7" fill="#d8a040"/><circle cx="65.5" cy="34.6" r="0.85" fill="#e03a2a"/><line x1="68.2" y1="36.3" x2="69.7" y2="33.5" stroke="#8a8a8a" stroke-width="0.55"/><circle cx="69.7" cy="33.5" r="0.55" fill="#b4b4b4"/><line x1="68.2" y1="36.3" x2="67.4" y2="39.3" stroke="#8a8a8a" stroke-width="0.55"/><circle cx="67.4" cy="39.3" r="0.55" fill="#b4b4b4"/><line x1="68.2" y1="36.3" x2="69.4" y2="38.9" stroke="#8a8a8a" stroke-width="0.55"/><circle cx="69.4" cy="38.9" r="0.55" fill="#b4b4b4"/><circle cx="68.2" cy="36.3" r="0.7" fill="#d8a040"/><circle cx="70.8" cy="34.7" r="0.85" fill="#e03a2a"/><line x1="73.5" y1="36.4" x2="72.7" y2="39.4" stroke="#8a8a8a" stroke-width="0.55"/><circle cx="72.7" cy="39.4" r="0.55" fill="#b4b4b4"/><line x1="73.5" y1="36.4" x2="74.7" y2="39.0" stroke="#8a8a8a" stroke-width="0.55"/><circle cx="74.7" cy="39.0" r="0.55" fill="#b4b4b4"/><circle cx="73.5" cy="36.4" r="0.7" fill="#d8a040"/><circle cx="76.2" cy="34.9" r="0.85" fill="#e03a2a"/><line x1="78.9" y1="36.6" x2="77.6" y2="33.4" stroke="#8a8a8a" stroke-width="0.55"/><circle cx="77.6" cy="33.4" r="0.55" fill="#b4b4b4"/><line x1="78.9" y1="36.6" x2="80.4" y2="33.8" stroke="#8a8a8a" stroke-width="0.55"/><circle cx="80.4" cy="33.8" r="0.55" fill="#b4b4b4"/><line x1="78.9" y1="36.6" x2="80.1" y2="39.2" stroke="#8a8a8a" stroke-width="0.55"/><circle cx="80.1" cy="39.2" r="0.55" fill="#b4b4b4"/><circle cx="78.9" cy="36.6" r="0.7" fill="#d8a040"/><circle cx="81.6" cy="35.0" r="0.85" fill="#e03a2a"/><line x1="84.3" y1="36.7" x2="85.8" y2="33.9" stroke="#8a8a8a" stroke-width="0.55"/><circle cx="85.8" cy="33.9" r="0.55" fill="#b4b4b4"/><line x1="84.3" y1="36.7" x2="83.5" y2="39.7" stroke="#8a8a8a" stroke-width="0.55"/><circle cx="83.5" cy="39.7" r="0.55" fill="#b4b4b4"/><line x1="84.3" y1="36.7" x2="85.5" y2="39.3" stroke="#8a8a8a" stroke-width="0.55"/><circle cx="85.5" cy="39.3" r="0.55" fill="#b4b4b4"/><circle cx="84.3" cy="36.7" r="0.7" fill="#d8a040"/><circle cx="87.0" cy="35.2" r="0.85" fill="#e03a2a"/>
<g fill="none" stroke-width="1"><polyline points="84,36 88.8,30.3 91.5,37.4 85.2,45.2 83.6,49.9 76,51.5" stroke="#e8a630"/><polyline points="91.5,37.4 99,41 101.7,46.8" stroke="#e8a630"/><polyline points="91.5,37.4 97,31 104,30.3" stroke="#3a3a3a"/><polyline points="83.6,49.9 88.4,57 96.2,58.6 101.7,61.7" stroke="#555"/><polyline points="88,45 96.2,44.4" stroke="#666"/></g>
<circle cx="94.6" cy="29.9" r="1.8" fill="#2a2a2a"/>
<circle cx="99.4" cy="31" r="1.7" fill="#333"/>
<circle cx="101" cy="33.8" r="1.5" fill="#3a3a3a"/>
<circle cx="104" cy="30.3" r="1.5" fill="#444"/>
<circle cx="88.8" cy="30.3" r="1.5" fill="#e02a2a"/>
<circle cx="91.5" cy="37.4" r="1.2" fill="#d89a30"/>
<circle cx="96.2" cy="44.4" r="1.7" fill="#2e2e2e"/>
<circle cx="98.6" cy="42" r="1.5" fill="#555"/>
<circle cx="101.7" cy="46.8" r="1.5" fill="#333"/>
<circle cx="103" cy="38" r="1.1" fill="#999"/>
<circle cx="85.2" cy="45.2" r="1.3" fill="#e02a2a"/>
<circle cx="83.6" cy="49.9" r="1.1" fill="#d89a30"/>
<circle cx="88.4" cy="57" r="1.6" fill="#3a3a3a"/>
<circle cx="92" cy="56" r="1.2" fill="#777"/>
<circle cx="96.2" cy="58.6" r="1.5" fill="#333"/>
<circle cx="101.7" cy="61.7" r="1.5" fill="#444"/>
<circle cx="99" cy="55" r="1.1" fill="#999"/>
<circle cx="76" cy="51.5" r="1.2" fill="#e02a2a"/>
<circle cx="80" cy="33" r="1.0" fill="#999"/>
<circle cx="84" cy="31" r="1.0" fill="#aaa"/>
<polyline points="17.0,108.1 19.8,109.9 22.5,108.2 25.3,110.0 28.1,108.2 30.8,110.1 33.6,108.3 36.4,110.1 39.1,108.4 41.9,110.2 44.7,108.4 47.4,110.3 50.2,108.5 53.0,110.3 55.7,108.6 58.5,110.4 61.3,108.6 64.0,110.5 66.8,108.7 69.6,110.5 72.3,108.8 75.1,110.6 77.9,108.8 80.6,110.7 83.4,108.9 86.2,110.7 88.9,109.0 91.7,110.8 94.5,109.0 97.2,110.9 100.0,109.1" fill="none" stroke="#e8a630" stroke-width="1.1"/><circle cx="17.0" cy="108.1" r="0.85" fill="#e03a2a"/><line x1="19.8" y1="109.9" x2="19.0" y2="112.9" stroke="#8a8a8a" stroke-width="0.55"/><circle cx="19.0" cy="112.9" r="0.55" fill="#b4b4b4"/><line x1="19.8" y1="109.9" x2="21.0" y2="112.5" stroke="#8a8a8a" stroke-width="0.55"/><circle cx="21.0" cy="112.5" r="0.55" fill="#b4b4b4"/><circle cx="19.8" cy="109.9" r="0.7" fill="#d8a040"/><circle cx="22.5" cy="108.2" r="0.85" fill="#e03a2a"/><line x1="25.3" y1="110.0" x2="26.8" y2="107.2" stroke="#8a8a8a" stroke-width="0.55"/><circle cx="26.8" cy="107.2" r="0.55" fill="#b4b4b4"/><line x1="25.3" y1="110.0" x2="24.5" y2="113.0" stroke="#8a8a8a" stroke-width="0.55"/><circle cx="24.5" cy="113.0" r="0.55" fill="#b4b4b4"/><line x1="25.3" y1="110.0" x2="26.5" y2="112.6" stroke="#8a8a8a" stroke-width="0.55"/><circle cx="26.5" cy="112.6" r="0.55" fill="#b4b4b4"/><circle cx="25.3" cy="110.0" r="0.7" fill="#d8a040"/><circle cx="28.1" cy="108.2" r="0.85" fill="#e03a2a"/><line x1="30.8" y1="110.1" x2="29.5" y2="106.9" stroke="#8a8a8a" stroke-width="0.55"/><circle cx="29.5" cy="106.9" r="0.55" fill="#b4b4b4"/><line x1="30.8" y1="110.1" x2="32.3" y2="107.3" stroke="#8a8a8a" stroke-width="0.55"/><circle cx="32.3" cy="107.3" r="0.55" fill="#b4b4b4"/><line x1="30.8" y1="110.1" x2="30.0" y2="113.1" stroke="#8a8a8a" stroke-width="0.55"/><circle cx="30.0" cy="113.1" r="0.55" fill="#b4b4b4"/><line x1="30.8" y1="110.1" x2="32.0" y2="112.7" stroke="#8a8a8a" stroke-width="0.55"/><circle cx="32.0" cy="112.7" r="0.55" fill="#b4b4b4"/><circle cx="30.8" cy="110.1" r="0.7" fill="#d8a040"/><circle cx="33.6" cy="108.3" r="0.85" fill="#e03a2a"/><line x1="36.4" y1="110.1" x2="35.1" y2="106.9" stroke="#8a8a8a" stroke-width="0.55"/><circle cx="35.1" cy="106.9" r="0.55" fill="#b4b4b4"/><line x1="36.4" y1="110.1" x2="37.9" y2="107.3" stroke="#8a8a8a" stroke-width="0.55"/><circle cx="37.9" cy="107.3" r="0.55" fill="#b4b4b4"/><line x1="36.4" y1="110.1" x2="35.6" y2="113.1" stroke="#8a8a8a" stroke-width="0.55"/><circle cx="35.6" cy="113.1" r="0.55" fill="#b4b4b4"/><circle cx="36.4" cy="110.1" r="0.7" fill="#d8a040"/><circle cx="39.1" cy="108.4" r="0.85" fill="#e03a2a"/><line x1="41.9" y1="110.2" x2="43.4" y2="107.4" stroke="#8a8a8a" stroke-width="0.55"/><circle cx="43.4" cy="107.4" r="0.55" fill="#b4b4b4"/><line x1="41.9" y1="110.2" x2="41.1" y2="113.2" stroke="#8a8a8a" stroke-width="0.55"/><circle cx="41.1" cy="113.2" r="0.55" fill="#b4b4b4"/><line x1="41.9" y1="110.2" x2="43.1" y2="112.8" stroke="#8a8a8a" stroke-width="0.55"/><circle cx="43.1" cy="112.8" r="0.55" fill="#b4b4b4"/><circle cx="41.9" cy="110.2" r="0.7" fill="#d8a040"/><circle cx="44.7" cy="108.4" r="0.85" fill="#e03a2a"/><line x1="47.4" y1="110.3" x2="46.1" y2="107.1" stroke="#8a8a8a" stroke-width="0.55"/><circle cx="46.1" cy="107.1" r="0.55" fill="#b4b4b4"/><line x1="47.4" y1="110.3" x2="48.9" y2="107.5" stroke="#8a8a8a" stroke-width="0.55"/><circle cx="48.9" cy="107.5" r="0.55" fill="#b4b4b4"/><line x1="47.4" y1="110.3" x2="46.6" y2="113.3" stroke="#8a8a8a" stroke-width="0.55"/><circle cx="46.6" cy="113.3" r="0.55" fill="#b4b4b4"/><line x1="47.4" y1="110.3" x2="48.6" y2="112.9" stroke="#8a8a8a" stroke-width="0.55"/><circle cx="48.6" cy="112.9" r="0.55" fill="#b4b4b4"/><circle cx="47.4" cy="110.3" r="0.7" fill="#d8a040"/><circle cx="50.2" cy="108.5" r="0.85" fill="#e03a2a"/><line x1="53.0" y1="110.3" x2="51.7" y2="107.1" stroke="#8a8a8a" stroke-width="0.55"/><circle cx="51.7" cy="107.1" r="0.55" fill="#b4b4b4"/><line x1="53.0" y1="110.3" x2="52.2" y2="113.3" stroke="#8a8a8a" stroke-width="0.55"/><circle cx="52.2" cy="113.3" r="0.55" fill="#b4b4b4"/><line x1="53.0" y1="110.3" x2="54.2" y2="112.9" stroke="#8a8a8a" stroke-width="0.55"/><circle cx="54.2" cy="112.9" r="0.55" fill="#b4b4b4"/><circle cx="53.0" cy="110.3" r="0.7" fill="#d8a040"/><circle cx="55.7" cy="108.6" r="0.85" fill="#e03a2a"/><line x1="58.5" y1="110.4" x2="57.2" y2="107.2" stroke="#8a8a8a" stroke-width="0.55"/><circle cx="57.2" cy="107.2" r="0.55" fill="#b4b4b4"/><line x1="58.5" y1="110.4" x2="60.0" y2="107.6" stroke="#8a8a8a" stroke-width="0.55"/><circle cx="60.0" cy="107.6" r="0.55" fill="#b4b4b4"/><line x1="58.5" y1="110.4" x2="57.7" y2="113.4" stroke="#8a8a8a" stroke-width="0.55"/><circle cx="57.7" cy="113.4" r="0.55" fill="#b4b4b4"/><line x1="58.5" y1="110.4" x2="59.7" y2="113.0" stroke="#8a8a8a" stroke-width="0.55"/><circle cx="59.7" cy="113.0" r="0.55" fill="#b4b4b4"/><circle cx="58.5" cy="110.4" r="0.7" fill="#d8a040"/><circle cx="61.3" cy="108.6" r="0.85" fill="#e03a2a"/><line x1="64.0" y1="110.5" x2="62.7" y2="107.3" stroke="#8a8a8a" stroke-width="0.55"/><circle cx="62.7" cy="107.3" r="0.55" fill="#b4b4b4"/><line x1="64.0" y1="110.5" x2="63.2" y2="113.5" stroke="#8a8a8a" stroke-width="0.55"/><circle cx="63.2" cy="113.5" r="0.55" fill="#b4b4b4"/><line x1="64.0" y1="110.5" x2="65.2" y2="113.1" stroke="#8a8a8a" stroke-width="0.55"/><circle cx="65.2" cy="113.1" r="0.55" fill="#b4b4b4"/><circle cx="64.0" cy="110.5" r="0.7" fill="#d8a040"/><circle cx="66.8" cy="108.7" r="0.85" fill="#e03a2a"/><line x1="69.6" y1="110.5" x2="68.8" y2="113.5" stroke="#8a8a8a" stroke-width="0.55"/><circle cx="68.8" cy="113.5" r="0.55" fill="#b4b4b4"/><circle cx="69.6" cy="110.5" r="0.7" fill="#d8a040"/><circle cx="72.3" cy="108.8" r="0.85" fill="#e03a2a"/><line x1="75.1" y1="110.6" x2="74.3" y2="113.6" stroke="#8a8a8a" stroke-width="0.55"/><circle cx="74.3" cy="113.6" r="0.55" fill="#b4b4b4"/><circle cx="75.1" cy="110.6" r="0.7" fill="#d8a040"/><circle cx="77.9" cy="108.8" r="0.85" fill="#e03a2a"/><line x1="80.6" y1="110.7" x2="82.1" y2="107.9" stroke="#8a8a8a" stroke-width="0.55"/><circle cx="82.1" cy="107.9" r="0.55" fill="#b4b4b4"/><line x1="80.6" y1="110.7" x2="81.8" y2="113.3" stroke="#8a8a8a" stroke-width="0.55"/><circle cx="81.8" cy="113.3" r="0.55" fill="#b4b4b4"/><circle cx="80.6" cy="110.7" r="0.7" fill="#d8a040"/><circle cx="83.4" cy="108.9" r="0.85" fill="#e03a2a"/><line x1="86.2" y1="110.7" x2="84.9" y2="107.5" stroke="#8a8a8a" stroke-width="0.55"/><circle cx="84.9" cy="107.5" r="0.55" fill="#b4b4b4"/><line x1="86.2" y1="110.7" x2="87.7" y2="107.9" stroke="#8a8a8a" stroke-width="0.55"/><circle cx="87.7" cy="107.9" r="0.55" fill="#b4b4b4"/><line x1="86.2" y1="110.7" x2="85.4" y2="113.7" stroke="#8a8a8a" stroke-width="0.55"/><circle cx="85.4" cy="113.7" r="0.55" fill="#b4b4b4"/><circle cx="86.2" cy="110.7" r="0.7" fill="#d8a040"/><circle cx="88.9" cy="109.0" r="0.85" fill="#e03a2a"/><line x1="91.7" y1="110.8" x2="90.4" y2="107.6" stroke="#8a8a8a" stroke-width="0.55"/><circle cx="90.4" cy="107.6" r="0.55" fill="#b4b4b4"/><line x1="91.7" y1="110.8" x2="90.9" y2="113.8" stroke="#8a8a8a" stroke-width="0.55"/><circle cx="90.9" cy="113.8" r="0.55" fill="#b4b4b4"/><circle cx="91.7" cy="110.8" r="0.7" fill="#d8a040"/><circle cx="94.5" cy="109.0" r="0.85" fill="#e03a2a"/><line x1="97.2" y1="110.9" x2="98.7" y2="108.1" stroke="#8a8a8a" stroke-width="0.55"/><circle cx="98.7" cy="108.1" r="0.55" fill="#b4b4b4"/><line x1="97.2" y1="110.9" x2="96.4" y2="113.9" stroke="#8a8a8a" stroke-width="0.55"/><circle cx="96.4" cy="113.9" r="0.55" fill="#b4b4b4"/><circle cx="97.2" cy="110.9" r="0.7" fill="#d8a040"/><circle cx="100.0" cy="109.1" r="0.85" fill="#e03a2a"/>
<polyline points="42.0,106.2 44.8,107.0 47.7,104.7 50.5,105.5 53.3,103.2 56.2,104.0 59.0,101.7 61.8,102.5 64.7,100.2 67.5,101.0 70.3,98.7 73.2,99.5 76.0,97.2" fill="none" stroke="#e8a630" stroke-width="1.1"/><circle cx="42.0" cy="106.2" r="0.85" fill="#e03a2a"/><line x1="44.8" y1="107.0" x2="43.5" y2="103.8" stroke="#8a8a8a" stroke-width="0.55"/><circle cx="43.5" cy="103.8" r="0.55" fill="#b4b4b4"/><line x1="44.8" y1="107.0" x2="46.3" y2="104.2" stroke="#8a8a8a" stroke-width="0.55"/><circle cx="46.3" cy="104.2" r="0.55" fill="#b4b4b4"/><circle cx="44.8" cy="107.0" r="0.7" fill="#d8a040"/><circle cx="47.7" cy="104.7" r="0.85" fill="#e03a2a"/><line x1="50.5" y1="105.5" x2="49.2" y2="102.3" stroke="#8a8a8a" stroke-width="0.55"/><circle cx="49.2" cy="102.3" r="0.55" fill="#b4b4b4"/><line x1="50.5" y1="105.5" x2="49.7" y2="108.5" stroke="#8a8a8a" stroke-width="0.55"/><circle cx="49.7" cy="108.5" r="0.55" fill="#b4b4b4"/><line x1="50.5" y1="105.5" x2="51.7" y2="108.1" stroke="#8a8a8a" stroke-width="0.55"/><circle cx="51.7" cy="108.1" r="0.55" fill="#b4b4b4"/><circle cx="50.5" cy="105.5" r="0.7" fill="#d8a040"/><circle cx="53.3" cy="103.2" r="0.85" fill="#e03a2a"/><line x1="56.2" y1="104.0" x2="57.7" y2="101.2" stroke="#8a8a8a" stroke-width="0.55"/><circle cx="57.7" cy="101.2" r="0.55" fill="#b4b4b4"/><line x1="56.2" y1="104.0" x2="57.4" y2="106.6" stroke="#8a8a8a" stroke-width="0.55"/><circle cx="57.4" cy="106.6" r="0.55" fill="#b4b4b4"/><circle cx="56.2" cy="104.0" r="0.7" fill="#d8a040"/><circle cx="59.0" cy="101.7" r="0.85" fill="#e03a2a"/><line x1="61.8" y1="102.5" x2="60.5" y2="99.3" stroke="#8a8a8a" stroke-width="0.55"/><circle cx="60.5" cy="99.3" r="0.55" fill="#b4b4b4"/><line x1="61.8" y1="102.5" x2="63.3" y2="99.8" stroke="#8a8a8a" stroke-width="0.55"/><circle cx="63.3" cy="99.8" r="0.55" fill="#b4b4b4"/><line x1="61.8" y1="102.5" x2="61.0" y2="105.5" stroke="#8a8a8a" stroke-width="0.55"/><circle cx="61.0" cy="105.5" r="0.55" fill="#b4b4b4"/><line x1="61.8" y1="102.5" x2="63.0" y2="105.1" stroke="#8a8a8a" stroke-width="0.55"/><circle cx="63.0" cy="105.1" r="0.55" fill="#b4b4b4"/><circle cx="61.8" cy="102.5" r="0.7" fill="#d8a040"/><circle cx="64.7" cy="100.2" r="0.85" fill="#e03a2a"/><line x1="67.5" y1="101.0" x2="66.2" y2="97.8" stroke="#8a8a8a" stroke-width="0.55"/><circle cx="66.2" cy="97.8" r="0.55" fill="#b4b4b4"/><line x1="67.5" y1="101.0" x2="69.0" y2="98.2" stroke="#8a8a8a" stroke-width="0.55"/><circle cx="69.0" cy="98.2" r="0.55" fill="#b4b4b4"/><line x1="67.5" y1="101.0" x2="66.7" y2="104.0" stroke="#8a8a8a" stroke-width="0.55"/><circle cx="66.7" cy="104.0" r="0.55" fill="#b4b4b4"/><circle cx="67.5" cy="101.0" r="0.7" fill="#d8a040"/><circle cx="70.3" cy="98.7" r="0.85" fill="#e03a2a"/><line x1="73.2" y1="99.5" x2="74.7" y2="96.8" stroke="#8a8a8a" stroke-width="0.55"/><circle cx="74.7" cy="96.8" r="0.55" fill="#b4b4b4"/><line x1="73.2" y1="99.5" x2="74.4" y2="102.1" stroke="#8a8a8a" stroke-width="0.55"/><circle cx="74.4" cy="102.1" r="0.55" fill="#b4b4b4"/><circle cx="73.2" cy="99.5" r="0.7" fill="#d8a040"/><circle cx="76.0" cy="97.2" r="0.85" fill="#e03a2a"/>
<polyline points="99,100 101,106 100,113 103,118" fill="none" stroke="#e8a630" stroke-width="1"/>
<circle cx="101" cy="103" r="1.1" fill="#e03a2a"/><circle cx="102" cy="115" r="1.1" fill="#e03a2a"/>
<line x1="40" y1="104" x2="58" y2="101" stroke="#c8a070" stroke-width="0.6"/>
<text x="17.70" y="79.50" font-family="'Liberation Sans', Arial, sans-serif" font-size="8.1" font-weight="bold" fill="#2233e6" stroke="#2233e6" stroke-width="0.22" text-anchor="start" >GO/PDMS</text>
<text x="17.70" y="93.60" font-family="'Liberation Sans', Arial, sans-serif" font-size="8.1" font-weight="bold" fill="#2233e6" stroke="#2233e6" stroke-width="0.22" text-anchor="start" >rGO/PDMS</text>
<line x1="69" y1="72" x2="69" y2="94.5" stroke="#f03030" stroke-width="0.9"/>
<polygon points="67.2,94 70.8,94 69,97.5" fill="#f03030"/>
<text x="76.00" y="80.40" font-family="'Liberation Sans', Arial, sans-serif" font-size="7.1" font-weight="bold" fill="#f03030" stroke="#f03030" stroke-width="0.22" text-anchor="start" >in situ</text>
<text x="71.80" y="88.60" font-family="'Liberation Sans', Arial, sans-serif" font-size="7.1" font-weight="bold" fill="#f03030" stroke="#f03030" stroke-width="0.22" text-anchor="start" >reduction</text>
<polygon points="109,82.7 113.8,82.7 113.8,80.4 118.7,85.4 113.8,90.4 113.8,88 109,88" fill="#7434a4" stroke="#e2a838" stroke-width="0.8"/>
<rect x="217.7" y="28" width="94.6" height="109" fill="#f9f9fa"/>
<rect x="120.3" y="30.4" width="97.4" height="111.6" fill="url(#rbg)"/>
<line x1="161.5" y1="58" x2="161.5" y2="100" stroke="#b9c3cf" stroke-width="0.5"/>
<line x1="175.2" y1="58" x2="175.2" y2="100" stroke="#b9c3cf" stroke-width="0.5"/>
<polygon points="137.8,112.6 168.5,123.5 168.5,131.5 137.8,120.6" fill="#0c0c0c"/>
<polygon points="168.5,123.5 196.4,110.6 196.4,118.6 168.5,131.5" fill="#161616"/>
<polygon points="137.8,112.6 170.0,101.2 196.4,110.6 168.5,123.5" fill="#1e1e1e"/>
<path d="M139.0,112.2 L169.5,123.0 M138.9,113.0 L170.9,101.5 M140.1,111.8 L170.5,122.6 M140.0,113.4 L171.9,101.9 M141.2,111.4 L171.5,122.1 M141.1,113.8 L172.8,102.2 M142.4,111.0 L172.5,121.7 M142.2,114.2 L173.8,102.5 M143.6,110.6 L173.5,121.2 M143.3,114.5 L174.7,102.9 M144.7,110.2 L174.5,120.7 M144.4,114.9 L175.7,103.2 M145.9,109.8 L175.5,120.3 M145.5,115.3 L176.6,103.5 M147.0,109.3 L176.5,119.8 M146.6,115.7 L177.5,103.9 M148.2,108.9 L177.5,119.4 M147.7,116.1 L178.5,104.2 M149.3,108.5 L178.5,118.9 M148.8,116.5 L179.4,104.6 M150.5,108.1 L179.5,118.4 M149.9,116.9 L180.4,104.9 M151.6,107.7 L180.5,118.0 M151.0,117.3 L181.3,105.2 M152.8,107.3 L181.5,117.5 M152.1,117.7 L182.3,105.6 M153.9,106.9 L182.4,117.0 M153.2,118.0 L183.2,105.9 M155.1,106.5 L183.4,116.6 M154.2,118.4 L184.1,106.2 M156.2,106.1 L184.4,116.1 M155.3,118.8 L185.1,106.6 M157.3,105.7 L185.4,115.7 M156.4,119.2 L186.0,106.9 M158.5,105.3 L186.4,115.2 M157.5,119.6 L187.0,107.2 M159.7,104.9 L187.4,114.7 M158.6,120.0 L187.9,107.6 M160.8,104.5 L188.4,114.3 M159.7,120.4 L188.9,107.9 M161.9,104.0 L189.4,113.8 M160.8,120.8 L189.8,108.2 M163.1,103.6 L190.4,113.4 M161.9,121.2 L190.7,108.6 M164.2,103.2 L191.4,112.9 M163.0,121.6 L191.7,108.9 M165.4,102.8 L192.4,112.4 M164.1,121.9 L192.6,109.3 M166.6,102.4 L193.4,112.0 M165.2,122.3 L193.6,109.6 M167.7,102.0 L194.4,111.5 M166.3,122.7 L194.5,109.9 M168.8,101.6 L195.4,111.1 M167.4,123.1 L195.5,110.3 " stroke="#474747" stroke-width="0.6" fill="none"/>
<path d="M138.9,113.0 v8 M169.5,123.0 v8 M140.0,113.4 v8 M170.5,122.6 v8 M141.1,113.8 v8 M171.5,122.1 v8 M142.2,114.2 v8 M172.5,121.7 v8 M143.3,114.5 v8 M173.5,121.2 v8 M144.4,114.9 v8 M174.5,120.7 v8 M145.5,115.3 v8 M175.5,120.3 v8 M146.6,115.7 v8 M176.5,119.8 v8 M147.7,116.1 v8 M177.5,119.4 v8 M148.8,116.5 v8 M178.5,118.9 v8 M149.9,116.9 v8 M179.5,118.4 v8 M151.0,117.3 v8 M180.5,118.0 v8 M152.1,117.7 v8 M181.5,117.5 v8 M153.2,118.0 v8 M182.4,117.0 v8 M154.2,118.4 v8 M183.4,116.6 v8 M155.3,118.8 v8 M184.4,116.1 v8 M156.4,119.2 v8 M185.4,115.7 v8 M157.5,119.6 v8 M186.4,115.2 v8 M158.6,120.0 v8 M187.4,114.7 v8 M159.7,120.4 v8 M188.4,114.3 v8 M160.8,120.8 v8 M189.4,113.8 v8 M161.9,121.2 v8 M190.4,113.4 v8 M163.0,121.6 v8 M191.4,112.9 v8 M164.1,121.9 v8 M192.4,112.4 v8 M165.2,122.3 v8 M193.4,112.0 v8 M166.3,122.7 v8 M194.4,111.5 v8 M167.4,123.1 v8 M195.4,111.1 v8 M137.8,115.3 L168.5,126.2 L196.4,113.3 M137.8,118.0 L168.5,128.9 L196.4,116.0 " stroke="#3a3a3a" stroke-width="0.55" fill="none"/>
<ellipse cx="168.2" cy="106.5" rx="5.5" ry="2" fill="none" stroke="#777" stroke-width="0.6"/>
<path d="M161.8,78 Q161.8,75.2 168.15,75.2 Q174.5,75.2 174.5,78 V104.5 Q168.15,106.8 161.8,104.5 Z" fill="url(#col)"/>
<rect x="167.6" y="27.4" width="2.9" height="3.2" fill="#e8141b"/>
<polygon points="165,30.4 173.1,30.4 169.05,34.3" fill="#e8141b"/>
<path d="M167.4,45 V37 Q168.8,35.2 170.3,37 V45 Z" fill="#c43030"/>
<polygon points="155.5,56 156.5,49.5 162.5,45.5 171,43.6 178.5,44.2 181,47 180.6,52 175.5,56 168.5,59.2 160.5,59.4" fill="#c52d2b"/>
<polygon points="155.5,56 160.5,59.4 168.5,59.2 175.5,56 180.6,52 180.2,54.5 175,58.5 168,61 160,61 156,58.5" fill="#8c1a18"/>
<path d="M163,47 Q170,45 177,46.5" stroke="#e06060" stroke-width="0.8" fill="none"/>
<ellipse cx="169" cy="61" rx="5.3" ry="1.4" fill="#303030"/>
<g stroke="#2a86d8" stroke-width="1.1" fill="#2a86d8"><line x1="133.6" y1="124.5" x2="133.6" y2="112"/><polygon points="131.9,112.5 135.3,112.5 133.6,109.6" stroke="none"/><line x1="133.6" y1="124.5" x2="125" y2="130.8"/><polygon points="123.2,132.2 124.2,129.2 126.4,131.8" stroke="none"/><line x1="133.6" y1="124.5" x2="142.5" y2="130.4"/><polygon points="145.6,132 141.3,132.0 143.3,129.1" stroke="none"/></g>
<text x="122.40" y="141.20" font-family="'Liberation Sans', Arial, sans-serif" font-size="9.3" font-weight="bold" fill="#2a35e0" stroke="#2a35e0" stroke-width="0.22" textLength="91.90" lengthAdjust="spacingAndGlyphs" >Graphene/PDMS lattice</text>
<text x="178.70" y="32.80" font-family="'Liberation Sans', Arial, sans-serif" font-size="8.0" font-weight="bold" fill="#2a2ee6" stroke="#2a2ee6" stroke-width="0.22" textLength="41.40" lengthAdjust="spacingAndGlyphs" >Controlled</text>
<text x="180.30" y="42.80" font-family="'Liberation Sans', Arial, sans-serif" font-size="8.0" font-weight="bold" fill="#2a2ee6" stroke="#2a2ee6" stroke-width="0.22" textLength="37.80" lengthAdjust="spacingAndGlyphs" >Extrusion</text>
<rect x="196.8" y="111.6" width="8.6" height="8.4" fill="none" stroke="#e04a4a" stroke-width="0.8"/>
<rect x="198" y="113" width="4" height="5" fill="#2a2a2a"/>
<line x1="205.4" y1="111.6" x2="221.5" y2="53.7" stroke="#e85050" stroke-width="0.7"/>
<line x1="205.4" y1="120" x2="221.5" y2="135.4" stroke="#e85050" stroke-width="0.7"/>
<clipPath id="zclip"><rect x="221.5" y="53.7" width="89" height="81.7"/></clipPath>
<rect x="221.5" y="53.7" width="89" height="81.7" fill="url(#zbg)"/>
<g clip-path="url(#zclip)"><polygon points="221.5,53.7 291,53.7 291,104 283,111.5 236,134 221.5,136" fill="#2a2b2d"/><line x1="215" y1="62.1" x2="287.5" y2="33.1" stroke="#393b3e" stroke-width="8" stroke-linecap="round"/><line x1="215" y1="59.7" x2="286.5" y2="30.7" stroke="#5a5e64" stroke-width="1.8" stroke-linecap="round"/><line x1="215" y1="75.8" x2="287.5" y2="46.8" stroke="#393b3e" stroke-width="8" stroke-linecap="round"/><line x1="215" y1="73.4" x2="286.5" y2="44.4" stroke="#5a5e64" stroke-width="1.8" stroke-linecap="round"/><line x1="215" y1="89.5" x2="287.5" y2="60.5" stroke="#393b3e" stroke-width="8" stroke-linecap="round"/><line x1="215" y1="87.1" x2="286.5" y2="58.1" stroke="#5a5e64" stroke-width="1.8" stroke-linecap="round"/><line x1="215" y1="103.2" x2="287.5" y2="74.2" stroke="#393b3e" stroke-width="8" stroke-linecap="round"/><line x1="215" y1="100.8" x2="286.5" y2="71.8" stroke="#5a5e64" stroke-width="1.8" stroke-linecap="round"/><line x1="215" y1="116.9" x2="287.5" y2="87.9" stroke="#393b3e" stroke-width="8" stroke-linecap="round"/><line x1="215" y1="114.5" x2="286.5" y2="85.5" stroke="#5a5e64" stroke-width="1.8" stroke-linecap="round"/><line x1="215" y1="130.6" x2="287.5" y2="101.6" stroke="#393b3e" stroke-width="8" stroke-linecap="round"/><line x1="215" y1="128.2" x2="286.5" y2="99.2" stroke="#5a5e64" stroke-width="1.8" stroke-linecap="round"/><polygon points="272.5,69.5 278.5,66.9 276.5,71.1" fill="#dfe3e9"/><polygon points="274,83 280,80.4 278,84.6" fill="#dfe3e9"/><polygon points="275,97 281,94.4 279,98.6" fill="#dfe3e9"/><polygon points="258,63 264,60.4 262,64.6" fill="#dfe3e9"/><polygon points="262,89 268,86.4 266,90.6" fill="#dfe3e9"/><circle cx="231.7" cy="62.8" r="4.1" fill="#313234" stroke="#46494c" stroke-width="0.6"/><circle cx="230.5" cy="61.5" r="1.3" fill="#3c3f42"/><circle cx="281.8" cy="42.7" r="4.1" fill="#313234" stroke="#46494c" stroke-width="0.6"/><circle cx="280.6" cy="41.4" r="1.3" fill="#3c3f42"/><circle cx="265.1" cy="63.1" r="4.1" fill="#313234" stroke="#46494c" stroke-width="0.6"/><circle cx="263.9" cy="61.8" r="1.3" fill="#3c3f42"/><circle cx="281.8" cy="56.4" r="4.1" fill="#313234" stroke="#46494c" stroke-width="0.6"/><circle cx="280.6" cy="55.1" r="1.3" fill="#3c3f42"/><circle cx="248.4" cy="83.5" r="4.1" fill="#313234" stroke="#46494c" stroke-width="0.6"/><circle cx="247.2" cy="82.2" r="1.3" fill="#3c3f42"/><circle cx="281.8" cy="70.1" r="4.1" fill="#313234" stroke="#46494c" stroke-width="0.6"/><circle cx="280.6" cy="68.8" r="1.3" fill="#3c3f42"/><circle cx="231.7" cy="103.9" r="4.1" fill="#313234" stroke="#46494c" stroke-width="0.6"/><circle cx="230.5" cy="102.6" r="1.3" fill="#3c3f42"/><circle cx="281.8" cy="83.8" r="4.1" fill="#313234" stroke="#46494c" stroke-width="0.6"/><circle cx="280.6" cy="82.5" r="1.3" fill="#3c3f42"/><circle cx="265.1" cy="104.2" r="4.1" fill="#313234" stroke="#46494c" stroke-width="0.6"/><circle cx="263.9" cy="102.9" r="1.3" fill="#3c3f42"/><circle cx="281.8" cy="97.5" r="4.1" fill="#313234" stroke="#46494c" stroke-width="0.6"/><circle cx="280.6" cy="96.2" r="1.3" fill="#3c3f42"/><circle cx="231.7" cy="132.8" r="4.1" fill="#313234" stroke="#46494c" stroke-width="0.6"/><circle cx="230.5" cy="131.5" r="1.3" fill="#3c3f42"/><circle cx="248.4" cy="126.1" r="4.1" fill="#313234" stroke="#46494c" stroke-width="0.6"/><circle cx="247.2" cy="124.8" r="1.3" fill="#3c3f42"/><circle cx="265.1" cy="119.4" r="4.1" fill="#313234" stroke="#46494c" stroke-width="0.6"/><circle cx="263.9" cy="118.1" r="1.3" fill="#3c3f42"/><circle cx="281.8" cy="112.7" r="4.1" fill="#313234" stroke="#46494c" stroke-width="0.6"/><circle cx="280.6" cy="111.4" r="1.3" fill="#3c3f42"/></g>
<rect x="221.5" y="53.7" width="89" height="81.7" fill="none" stroke="#e04848" stroke-width="1"/>
<g stroke="#e02020" stroke-width="0.9" fill="none"><line x1="252" y1="83.5" x2="269" y2="77"/><line x1="252" y1="81" x2="252" y2="86.5"/><line x1="269" y1="74.5" x2="269" y2="80"/><line x1="249.5" y1="108.5" x2="254.5" y2="100"/></g>
<text x="253.50" y="79.50" font-family="'Liberation Sans', Arial, sans-serif" font-size="7" font-weight="bold" fill="#e82020" stroke="#e82020" stroke-width="0.22" text-anchor="start" font-style="italic">d</text>
<text x="240.50" y="106.50" font-family="'Liberation Sans', Arial, sans-serif" font-size="7" font-weight="bold" fill="#e82020" stroke="#e82020" stroke-width="0.22" text-anchor="start" font-style="italic">w</text>
<linearGradient id="ph1" x1="0" y1="0" x2="0" y2="1"><stop offset="0" stop-color="#dfe4ea"/><stop offset="1" stop-color="#d2d7de"/></linearGradient>
<linearGradient id="ph2" x1="0" y1="0" x2="0" y2="1"><stop offset="0" stop-color="#e2e4e6"/><stop offset="1" stop-color="#d4d6d9"/></linearGradient>
<linearGradient id="skin" x1="0" y1="0" x2="1" y2="1"><stop offset="0" stop-color="#ebdfd3"/><stop offset="1" stop-color="#d5c3b3"/></linearGradient>
<rect x="317.2" y="32" width="77.4" height="68.4" fill="url(#ph1)"/>
<rect x="394.6" y="32" width="142.4" height="68.4" fill="url(#ph2)"/>
<g opacity="1"><circle cx="341" cy="36.3" r="3.1" fill="#2f4f8f"/><circle cx="341" cy="36.8" r="1.4" fill="#a8bad9"/></g>
<g opacity="1"><circle cx="339.5" cy="97.6" r="3.1" fill="#2f4f8f"/><circle cx="339.5" cy="98.1" r="1.4" fill="#a8bad9"/></g>
<g opacity="1"><circle cx="374" cy="98.2" r="3.1" fill="#2f4f8f"/><circle cx="374" cy="98.7" r="1.4" fill="#a8bad9"/></g>
<g opacity="1"><circle cx="431" cy="36" r="3.1" fill="#2f4f8f"/><circle cx="431" cy="36.5" r="1.4" fill="#a8bad9"/></g>
<g opacity="1"><circle cx="463.8" cy="35.6" r="3.1" fill="#2f4f8f"/><circle cx="463.8" cy="36.1" r="1.4" fill="#a8bad9"/></g>
<g opacity="1"><circle cx="431" cy="97.6" r="3.1" fill="#2f4f8f"/><circle cx="431" cy="98.1" r="1.4" fill="#a8bad9"/></g>
<g opacity="1"><circle cx="463.8" cy="97.6" r="3.1" fill="#2f4f8f"/><circle cx="463.8" cy="98.1" r="1.4" fill="#a8bad9"/></g>
<text x="348" y="38" font-family="'Liberation Serif', 'Noto Serif CJK SC', serif" font-size="5.6" fill="#4a4f58" opacity="1">江南大学</text><rect x="348" y="39" width="20" height="0.6" fill="#9aa0a8" opacity="1"/>
<text x="346.5" y="99.5" font-family="'Liberation Serif', 'Noto Serif CJK SC', serif" font-size="5.6" fill="#4a4f58" opacity="1">江南大学</text><rect x="346.5" y="100.5" width="20" height="0.6" fill="#9aa0a8" opacity="1"/>
<text x="438" y="38" font-family="'Liberation Serif', 'Noto Serif CJK SC', serif" font-size="5.6" fill="#4a4f58" opacity="1">江南大学</text><rect x="438" y="39" width="20" height="0.6" fill="#9aa0a8" opacity="1"/>
<text x="470.8" y="38" font-family="'Liberation Serif', 'Noto Serif CJK SC', serif" font-size="5.6" fill="#4a4f58" opacity="1">江南大学</text><rect x="470.8" y="39" width="20" height="0.6" fill="#9aa0a8" opacity="1"/>
<text x="438" y="99.5" font-family="'Liberation Serif', 'Noto Serif CJK SC', serif" font-size="5.6" fill="#4a4f58" opacity="1">江南大学</text><rect x="438" y="100.5" width="20" height="0.6" fill="#9aa0a8" opacity="1"/>
<text x="470.8" y="99.5" font-family="'Liberation Serif', 'Noto Serif CJK SC', serif" font-size="5.6" fill="#4a4f58" opacity="1">江南大学</text><rect x="470.8" y="100.5" width="20" height="0.6" fill="#9aa0a8" opacity="1"/>
<rect x="326.4" y="51" width="52" height="29" fill="#1c1c1c"/>
<rect x="333" y="55" width="40" height="20" fill="#2a2a2a" opacity="0.6"/>
<path d="M411,47.3 L512,47.8 Q517,52 516.2,63 Q517,74 512,80 L411,80 Z" fill="url(#strip)"/>
<g opacity="0.45"><circle cx="431" cy="58.5" r="3.1" fill="#2f4f8f"/><circle cx="431" cy="59.0" r="1.4" fill="#a8bad9"/></g>
<g opacity="0.45"><circle cx="463.8" cy="58.5" r="3.1" fill="#2f4f8f"/><circle cx="463.8" cy="59.0" r="1.4" fill="#a8bad9"/></g>
<text x="438" y="61" font-family="'Liberation Serif', 'Noto Serif CJK SC', serif" font-size="5.6" fill="#4a4f58" opacity="0.35">江南大学</text><rect x="438" y="62" width="20" height="0.6" fill="#9aa0a8" opacity="0.35"/>
<text x="470.8" y="61" font-family="'Liberation Serif', 'Noto Serif CJK SC', serif" font-size="5.6" fill="#4a4f58" opacity="0.35">江南大学</text><rect x="470.8" y="62" width="20" height="0.6" fill="#9aa0a8" opacity="0.35"/>
<polygon points="317.2,32 330,32 333.5,38 334.5,46 330.5,53 322.5,55.5 317.2,54.5" fill="url(#skin)"/>
<polygon points="317.2,68 325,65.5 333,67.5 336,75 333,88 330,100.4 317.2,100.4" fill="url(#skin)"/>
<polygon points="370,32 412,32 413,42 409,51 399,55.5 386,55 375,50 370.5,42" fill="url(#skin)"/>
<polygon points="376,73 390,69.5 404,70 413,74 416,87 413,100.4 378,100.4 374.5,88" fill="url(#skin)"/>
<polygon points="500,32.5 537,32.5 537,60 522,61 510,58 504,50" fill="url(#skin)"/>
<polygon points="505,69 520,66 537,68 537,100.4 500,100.4 503,86" fill="url(#skin)"/>
<rect x="377" y="53" width="37" height="19.5" rx="4" fill="#dde1e7"/>
<line x1="394.6" y1="32" x2="394.6" y2="100.4" stroke="#b8a898" stroke-width="0.6"/>
<text x="384.40" y="53.60" font-family="'Liberation Sans', Arial, sans-serif" font-size="7.6" font-weight="bold" fill="#ff2424" stroke="#ff2424" stroke-width="0.22" textLength="26.20" lengthAdjust="spacingAndGlyphs" >Stretch</text>
<text x="382.60" y="72.20" font-family="'Liberation Sans', Arial, sans-serif" font-size="7.6" font-weight="bold" fill="#ff2424" stroke="#ff2424" stroke-width="0.22" textLength="29.10" lengthAdjust="spacingAndGlyphs" >Release</text>
<g fill="#ff2424" stroke="#ff2424" stroke-width="0.9"><line x1="385" y1="58.6" x2="408" y2="58.6"/><polygon stroke="none" points="407,56.8 411,58.6 407,60.4"/><line x1="388" y1="63" x2="410.6" y2="63"/><polygon stroke="none" points="389,61.2 385,63 389,64.8"/></g>
<rect x="362" y="113" width="168.8" height="125.5" fill="#fff" stroke="#3a3a3a" stroke-width="1.25"/>
<path d="M362,238.4 h-2.6 M362,227.0 h-1.6 M362,215.6 h-2.6 M362,204.1 h-1.6 M362,192.7 h-2.6 M362,181.3 h-1.6 M362,169.9 h-2.6 M362,158.5 h-1.6 M362,147.0 h-2.6 M362,135.6 h-1.6 M362,124.2 h-2.6 M369.2,238.5 v2.6 M388.3,238.5 v1.6 M407.4,238.5 v2.6 M426.5,238.5 v1.6 M445.6,238.5 v2.6 M464.8,238.5 v1.6 M483.9,238.5 v2.6 M503.0,238.5 v1.6 M522.1,238.5 v2.6" stroke="#3a3a3a" stroke-width="1" fill="none"/>
<text x="357.40" y="241.90" font-family="'Liberation Sans', Arial, sans-serif" font-size="10.3" font-weight="normal" fill="#222" stroke="#222" stroke-width="0.12" text-anchor="end" >0</text>
<text x="357.40" y="219.06" font-family="'Liberation Sans', Arial, sans-serif" font-size="10.3" font-weight="normal" fill="#222" stroke="#222" stroke-width="0.12" text-anchor="end" >20</text>
<text x="357.40" y="196.22" font-family="'Liberation Sans', Arial, sans-serif" font-size="10.3" font-weight="normal" fill="#222" stroke="#222" stroke-width="0.12" text-anchor="end" >40</text>
<text x="357.40" y="173.38" font-family="'Liberation Sans', Arial, sans-serif" font-size="10.3" font-weight="normal" fill="#222" stroke="#222" stroke-width="0.12" text-anchor="end" >60</text>
<text x="357.40" y="150.54" font-family="'Liberation Sans', Arial, sans-serif" font-size="10.3" font-weight="normal" fill="#222" stroke="#222" stroke-width="0.12" text-anchor="end" >80</text>
<text x="357.40" y="127.70" font-family="'Liberation Sans', Arial, sans-serif" font-size="10.3" font-weight="normal" fill="#222" stroke="#222" stroke-width="0.12" text-anchor="end" >100</text>
<text x="369.20" y="250.60" font-family="'Liberation Sans', Arial, sans-serif" font-size="10.3" font-weight="normal" fill="#222" stroke="#222" stroke-width="0.12" text-anchor="middle" >0</text>
<text x="407.42" y="250.60" font-family="'Liberation Sans', Arial, sans-serif" font-size="10.3" font-weight="normal" fill="#222" stroke="#222" stroke-width="0.12" text-anchor="middle" >25</text>
<text x="445.65" y="250.60" font-family="'Liberation Sans', Arial, sans-serif" font-size="10.3" font-weight="normal" fill="#222" stroke="#222" stroke-width="0.12" text-anchor="middle" >50</text>
<text x="483.88" y="250.60" font-family="'Liberation Sans', Arial, sans-serif" font-size="10.3" font-weight="normal" fill="#222" stroke="#222" stroke-width="0.12" text-anchor="middle" >75</text>
<text x="522.10" y="250.60" font-family="'Liberation Sans', Arial, sans-serif" font-size="10.3" font-weight="normal" fill="#222" stroke="#222" stroke-width="0.12" text-anchor="middle" >100</text>
<text transform="translate(332.9,239.6) rotate(-90)" font-family="'Liberation Sans', Arial, sans-serif" font-size="12.6" font-weight="bold" fill="#1a1a1a" stroke="#1a1a1a" stroke-width="0.3" textLength="115.6" lengthAdjust="spacingAndGlyphs">Normalized SE (%)</text>
<text x="393.80" y="266.70" font-family="'Liberation Sans', Arial, sans-serif" font-size="12.4" font-weight="bold" fill="#1a1a1a" stroke="#1a1a1a" stroke-width="0.3" textLength="104.20" lengthAdjust="spacingAndGlyphs" >Tensile Strain (%)</text>
<polyline points="369.2,124.2 399.8,129.5 430.4,140.4 460.9,151.7 491.5,178.1 506.8,208.7" fill="none" stroke="#1a9cb4" stroke-width="1.55"/>
<circle cx="369.2" cy="124.2" r="2.5" fill="#1a9cb4" stroke="#1a1a1a" stroke-width="0.45"/><circle cx="368.5" cy="123.5" r="0.7" fill="#fff" opacity="0.75"/>
<circle cx="399.8" cy="129.5" r="2.5" fill="#1a9cb4" stroke="#1a1a1a" stroke-width="0.45"/><circle cx="399.1" cy="128.8" r="0.7" fill="#fff" opacity="0.75"/>
<circle cx="430.4" cy="140.4" r="2.5" fill="#1a9cb4" stroke="#1a1a1a" stroke-width="0.45"/><circle cx="429.7" cy="139.7" r="0.7" fill="#fff" opacity="0.75"/>
<circle cx="460.9" cy="151.7" r="2.5" fill="#1a9cb4" stroke="#1a1a1a" stroke-width="0.45"/><circle cx="460.2" cy="151.0" r="0.7" fill="#fff" opacity="0.75"/>
<circle cx="491.5" cy="178.1" r="2.5" fill="#1a9cb4" stroke="#1a1a1a" stroke-width="0.45"/><circle cx="490.8" cy="177.4" r="0.7" fill="#fff" opacity="0.75"/>
<circle cx="506.8" cy="208.7" r="2.5" fill="#1a9cb4" stroke="#1a1a1a" stroke-width="0.45"/><circle cx="506.1" cy="208.0" r="0.7" fill="#fff" opacity="0.75"/>
<polyline points="369.2,124.2 399.8,128.5 430.4,137.1 460.9,145.8 491.5,158.9 506.8,170.3 522.1,202.5" fill="none" stroke="#b49a20" stroke-width="1.55"/>
<circle cx="369.2" cy="124.2" r="2.5" fill="#b49a20" stroke="#1a1a1a" stroke-width="0.45"/><circle cx="368.5" cy="123.5" r="0.7" fill="#fff" opacity="0.75"/>
<circle cx="399.8" cy="128.5" r="2.5" fill="#b49a20" stroke="#1a1a1a" stroke-width="0.45"/><circle cx="399.1" cy="127.8" r="0.7" fill="#fff" opacity="0.75"/>
<circle cx="430.4" cy="137.1" r="2.5" fill="#b49a20" stroke="#1a1a1a" stroke-width="0.45"/><circle cx="429.7" cy="136.4" r="0.7" fill="#fff" opacity="0.75"/>
<circle cx="460.9" cy="145.8" r="2.5" fill="#b49a20" stroke="#1a1a1a" stroke-width="0.45"/><circle cx="460.2" cy="145.1" r="0.7" fill="#fff" opacity="0.75"/>
<circle cx="491.5" cy="158.9" r="2.5" fill="#b49a20" stroke="#1a1a1a" stroke-width="0.45"/><circle cx="490.8" cy="158.2" r="0.7" fill="#fff" opacity="0.75"/>
<circle cx="506.8" cy="170.3" r="2.5" fill="#b49a20" stroke="#1a1a1a" stroke-width="0.45"/><circle cx="506.1" cy="169.6" r="0.7" fill="#fff" opacity="0.75"/>
<circle cx="522.1" cy="202.5" r="2.5" fill="#b49a20" stroke="#1a1a1a" stroke-width="0.45"/><circle cx="521.4" cy="201.8" r="0.7" fill="#fff" opacity="0.75"/>
<polyline points="369.2,124.2 399.8,128.2 430.4,135.3 460.9,142.5 491.5,151.3 522.1,162.6" fill="none" stroke="#2446e8" stroke-width="1.55"/>
<circle cx="369.2" cy="124.2" r="2.5" fill="#2446e8" stroke="#1a1a1a" stroke-width="0.45"/><circle cx="368.5" cy="123.5" r="0.7" fill="#fff" opacity="0.75"/>
<circle cx="399.8" cy="128.2" r="2.5" fill="#2446e8" stroke="#1a1a1a" stroke-width="0.45"/><circle cx="399.1" cy="127.5" r="0.7" fill="#fff" opacity="0.75"/>
<circle cx="430.4" cy="135.3" r="2.5" fill="#2446e8" stroke="#1a1a1a" stroke-width="0.45"/><circle cx="429.7" cy="134.6" r="0.7" fill="#fff" opacity="0.75"/>
<circle cx="460.9" cy="142.5" r="2.5" fill="#2446e8" stroke="#1a1a1a" stroke-width="0.45"/><circle cx="460.2" cy="141.8" r="0.7" fill="#fff" opacity="0.75"/>
<circle cx="491.5" cy="151.3" r="2.5" fill="#2446e8" stroke="#1a1a1a" stroke-width="0.45"/><circle cx="490.8" cy="150.6" r="0.7" fill="#fff" opacity="0.75"/>
<circle cx="522.1" cy="162.6" r="2.5" fill="#2446e8" stroke="#1a1a1a" stroke-width="0.45"/><circle cx="521.4" cy="161.9" r="0.7" fill="#fff" opacity="0.75"/>
<polyline points="369.2,124.2 399.8,127.3 430.4,133.8 460.9,140.4 491.5,146.9 522.1,158.9" fill="none" stroke="#f42828" stroke-width="1.55"/>
<circle cx="369.2" cy="124.2" r="2.5" fill="#f42828" stroke="#1a1a1a" stroke-width="0.45"/><circle cx="368.5" cy="123.5" r="0.7" fill="#fff" opacity="0.75"/>
<circle cx="399.8" cy="127.3" r="2.5" fill="#f42828" stroke="#1a1a1a" stroke-width="0.45"/><circle cx="399.1" cy="126.6" r="0.7" fill="#fff" opacity="0.75"/>
<circle cx="430.4" cy="133.8" r="2.5" fill="#f42828" stroke="#1a1a1a" stroke-width="0.45"/><circle cx="429.7" cy="133.1" r="0.7" fill="#fff" opacity="0.75"/>
<circle cx="460.9" cy="140.4" r="2.5" fill="#f42828" stroke="#1a1a1a" stroke-width="0.45"/><circle cx="460.2" cy="139.7" r="0.7" fill="#fff" opacity="0.75"/>
<circle cx="491.5" cy="146.9" r="2.5" fill="#f42828" stroke="#1a1a1a" stroke-width="0.45"/><circle cx="490.8" cy="146.2" r="0.7" fill="#fff" opacity="0.75"/>
<circle cx="522.1" cy="158.9" r="2.5" fill="#f42828" stroke="#1a1a1a" stroke-width="0.45"/><circle cx="521.4" cy="158.2" r="0.7" fill="#fff" opacity="0.75"/>
<polyline points="369.2,124.2 399.8,125.1 430.4,129.5 460.9,133.8 491.5,140.4 522.1,156.1" fill="none" stroke="#222222" stroke-width="1.55"/>
<circle cx="369.2" cy="124.2" r="2.5" fill="#222222" stroke="#1a1a1a" stroke-width="0.45"/><circle cx="368.5" cy="123.5" r="0.7" fill="#fff" opacity="0.75"/>
<circle cx="399.8" cy="125.1" r="2.5" fill="#222222" stroke="#1a1a1a" stroke-width="0.45"/><circle cx="399.1" cy="124.4" r="0.7" fill="#fff" opacity="0.75"/>
<circle cx="430.4" cy="129.5" r="2.5" fill="#222222" stroke="#1a1a1a" stroke-width="0.45"/><circle cx="429.7" cy="128.8" r="0.7" fill="#fff" opacity="0.75"/>
<circle cx="460.9" cy="133.8" r="2.5" fill="#222222" stroke="#1a1a1a" stroke-width="0.45"/><circle cx="460.2" cy="133.1" r="0.7" fill="#fff" opacity="0.75"/>
<circle cx="491.5" cy="140.4" r="2.5" fill="#222222" stroke="#1a1a1a" stroke-width="0.45"/><circle cx="490.8" cy="139.7" r="0.7" fill="#fff" opacity="0.75"/>
<circle cx="522.1" cy="156.1" r="2.5" fill="#222222" stroke="#1a1a1a" stroke-width="0.45"/><circle cx="521.4" cy="155.4" r="0.7" fill="#fff" opacity="0.75"/>
<line x1="367.2" y1="178.5" x2="389.6" y2="178.5" stroke="#1a9cb4" stroke-width="1.55"/>
<circle cx="378.2" cy="178.5" r="2.5" fill="#1a9cb4" stroke="#1a1a1a" stroke-width="0.45"/><circle cx="377.5" cy="177.8" r="0.7" fill="#fff" opacity="0.75"/>
<text x="392.2" y="182.0" font-family="'Liberation Sans', Arial, sans-serif" font-size="9.7" fill="#222"><tspan font-weight="bold" font-style="italic">d</tspan> = 0.4 mm</text>
<line x1="367.2" y1="190.6" x2="389.6" y2="190.6" stroke="#b49a20" stroke-width="1.55"/>
<circle cx="378.2" cy="190.6" r="2.5" fill="#b49a20" stroke="#1a1a1a" stroke-width="0.45"/><circle cx="377.5" cy="189.9" r="0.7" fill="#fff" opacity="0.75"/>
<text x="392.2" y="194.1" font-family="'Liberation Sans', Arial, sans-serif" font-size="9.7" fill="#222"><tspan font-weight="bold" font-style="italic">d</tspan> = 0.45 mm</text>
<line x1="367.2" y1="202.6" x2="389.6" y2="202.6" stroke="#2446e8" stroke-width="1.55"/>
<circle cx="378.2" cy="202.6" r="2.5" fill="#2446e8" stroke="#1a1a1a" stroke-width="0.45"/><circle cx="377.5" cy="201.9" r="0.7" fill="#fff" opacity="0.75"/>
<text x="392.2" y="206.1" font-family="'Liberation Sans', Arial, sans-serif" font-size="9.7" fill="#222"><tspan font-weight="bold" font-style="italic">d</tspan> = 0.5 mm</text>
<line x1="367.2" y1="214.7" x2="389.6" y2="214.7" stroke="#f42828" stroke-width="1.55"/>
<circle cx="378.2" cy="214.7" r="2.5" fill="#f42828" stroke="#1a1a1a" stroke-width="0.45"/><circle cx="377.5" cy="214.0" r="0.7" fill="#fff" opacity="0.75"/>
<text x="392.2" y="218.2" font-family="'Liberation Sans', Arial, sans-serif" font-size="9.7" fill="#222"><tspan font-weight="bold" font-style="italic">d</tspan> = 0.55 mm</text>
<line x1="367.2" y1="226.8" x2="389.6" y2="226.8" stroke="#222222" stroke-width="1.55"/>
<circle cx="378.2" cy="226.8" r="2.5" fill="#222222" stroke="#1a1a1a" stroke-width="0.45"/><circle cx="377.5" cy="226.1" r="0.7" fill="#fff" opacity="0.75"/>
<text x="392.2" y="230.3" font-family="'Liberation Sans', Arial, sans-serif" font-size="9.7" fill="#222"><tspan font-weight="bold" font-style="italic">d</tspan> = 0.6 mm</text>
<polyline points="10.3,190.7 10.1,191.6 9.9,192.4 9.8,193.1 9.7,193.7 9.8,194.2 10.0,194.5 10.3,194.6 10.8,194.5 11.4,194.3 12.0,194.0 12.8,193.5 13.5,193.1 14.3,192.6 15.0,192.2 15.7,191.9 16.2,191.6 16.7,191.6 17.0,191.7 17.2,192.0 17.3,192.4 17.3,193.0 17.1,193.8 17.0,194.6 16.7,195.5 16.5,196.3 16.3,197.1 16.2,197.9 16.2,198.5 16.2,198.9 16.4,199.2 16.8,199.3 17.2,199.3 17.8,199.1 18.5,198.7 19.2,198.3 20.0,197.8 20.7,197.4 21.4,196.9 22.1,196.6 22.7,196.4 23.1,196.3 23.5,196.5 23.7,196.7 23.7,197.2 23.7,197.8 23.6,198.5 23.4,199.4 23.2,200.2 22.9,201.1 22.7,201.9 22.6,202.6 22.6,203.2 22.7,203.7 22.9,204.0 23.2,204.1 23.7,204.0 24.2,203.8 24.9,203.5 25.6,203.0 26.4,202.6 27.2,202.1 27.9,201.7 28.5,201.4 29.1,201.1 29.6,201.1 29.9,201.2 30.1,201.5 30.2,202.0 30.1,202.6 30.0,203.3 29.8,204.1 29.6,205.0 29.4,205.9 29.2,206.7 29.1,207.4 29.0,208.0 29.1,208.5 29.3,208.7 29.7,208.8 30.1,208.8 30.7,208.6 31.4,208.2 32.1,207.8 32.8,207.3 33.6,206.9 34.3,206.4 35.0,206.1 35.6,205.9 36.0,205.8 36.3,206.0 36.5,206.3 36.6,206.7 36.6,207.3 36.4,208.1 36.3,208.9 36.0,209.8 35.8,210.6 35.6,211.4 35.5,212.2 35.5,212.8 35.5,213.2 35.8,213.5 36.1,213.6 36.6,213.5 37.1,213.3 37.8,213.0 38.5,212.5 39.3,212.1 40.0,211.6 40.8,211.2" fill="none" stroke="#c48ad0" stroke-width="0.85"/>
<polyline points="37.5,169.5 37.2,170.3 36.9,171.1 36.8,171.9 36.7,172.5 36.7,172.9 36.9,173.2 37.2,173.4 37.7,173.3 38.3,173.2 39.0,172.9 39.7,172.5 40.5,172.1 41.3,171.7 42.1,171.4 42.8,171.1 43.4,170.9 43.8,170.9 44.1,171.1 44.3,171.4 44.3,171.9 44.2,172.5 44.0,173.2 43.8,174.0 43.5,174.8 43.2,175.7 42.9,176.5 42.7,177.2 42.7,177.8 42.7,178.2 42.9,178.5 43.2,178.7 43.7,178.6 44.3,178.5 45.0,178.2 45.8,177.8 46.6,177.4 47.4,177.0 48.1,176.7 48.8,176.4 49.4,176.2 49.8,176.2 50.1,176.4 50.3,176.7 50.3,177.2 50.2,177.8 50.0,178.5 49.8,179.3 49.5,180.2 49.2,181.0 48.9,181.8 48.7,182.5 48.7,183.1 48.7,183.6 48.9,183.8 49.2,184.0 49.7,183.9 50.3,183.7 51.0,183.5 51.8,183.1 52.6,182.7 53.4,182.3 54.2,181.9 54.8,181.7 55.4,181.5 55.8,181.5 56.1,181.7 56.3,182.0 56.3,182.5 56.2,183.1 56.0,183.9 55.7,184.7 55.4,185.5 55.1,186.4 54.9,187.2 54.7,187.9 54.7,188.4 54.7,188.9 54.9,189.1 55.3,189.3 55.8,189.2 56.4,189.0 57.1,188.7 57.8,188.4 58.6,188.0 59.4,187.6 60.2,187.2 60.9,187.0 61.4,186.8 61.9,186.8 62.2,187.0 62.3,187.3 62.3,187.8 62.2,188.5 62.0,189.2 61.7,190.0 61.4,190.9 61.1,191.7 60.9,192.5 60.7,193.2 60.7,193.8 60.7,194.2 60.9,194.4 61.3,194.5 61.8,194.5 62.4,194.3 63.1,194.0 63.9,193.6 64.7,193.2 65.5,192.8" fill="none" stroke="#c48ad0" stroke-width="0.85"/>
<polyline points="38.3,192.6 37.9,193.5 37.7,194.3 37.7,194.7 38.0,194.9 38.6,194.7 39.4,194.3 40.3,193.9 41.1,193.4 41.8,193.2 42.1,193.3 42.2,193.7 42.0,194.5 41.7,195.4 41.3,196.3 41.0,197.1 41.0,197.6 41.3,197.8 41.8,197.7 42.6,197.3 43.4,196.9 44.3,196.4 45.0,196.2 45.4,196.2 45.5,196.6 45.3,197.2 45.0,198.1 44.6,199.0 44.4,199.9 44.3,200.4 44.5,200.7 45.0,200.7 45.7,200.3 46.6,199.9 47.4,199.4 48.2,199.1 48.6,199.1 48.8,199.4 48.7,200.0 48.4,200.9 48.0,201.8 47.7,202.6 47.6,203.3 47.7,203.6 48.2,203.6 48.9,203.3 49.7,202.9 50.6,202.4 51.3,202.1 51.9,202.0 52.1,202.2 52.0,202.8 51.7,203.6 51.4,204.5 51.0,205.4 50.9,206.1 51.0,206.5" fill="none" stroke="#68bde6" stroke-width="0.85"/>
<polyline points="88.5,231.5 88.2,232.4 87.9,233.2 88.0,233.7 88.3,233.8 88.9,233.6 89.7,233.2 90.6,232.7 91.4,232.3 92.0,232.1 92.3,232.2 92.4,232.6 92.2,233.3 91.9,234.2 91.5,235.2 91.3,236.0 91.3,236.5 91.6,236.7 92.1,236.5 92.9,236.1 93.8,235.6 94.6,235.2 95.3,234.9 95.7,235.0 95.8,235.4 95.6,236.1 95.3,237.0 94.9,237.9 94.7,238.7 94.6,239.3 94.9,239.5 95.4,239.4 96.2,239.0 97.0,238.6 97.9,238.1 98.5,237.8 99.0,237.8 99.1,238.2 99.0,238.8 98.7,239.7 98.3,240.6 98.0,241.5 98.0,242.1 98.2,242.4 98.7,242.3 99.4,242.0 100.3,241.5 101.1,241.0 101.8,240.7 102.3,240.7 102.5,241.0 102.4,241.6" fill="none" stroke="#d6b27a" stroke-width="0.85"/>
<text x="30.90" y="160.90" font-family="'Liberation Sans', Arial, sans-serif" font-size="7.5" font-weight="bold" fill="#a462c2" stroke="#a462c2" stroke-width="0.22" textLength="28.80" lengthAdjust="spacingAndGlyphs" >Incident</text>
<text x="29.50" y="169.80" font-family="'Liberation Sans', Arial, sans-serif" font-size="7.5" font-weight="bold" fill="#a462c2" stroke="#a462c2" stroke-width="0.22" textLength="31.60" lengthAdjust="spacingAndGlyphs" >EM wave</text>
<text x="14.30" y="182.60" font-family="'Liberation Sans', Arial, sans-serif" font-size="7.3" font-weight="bold" fill="#2a92e0" stroke="#2a92e0" stroke-width="0.22" textLength="29.60" lengthAdjust="spacingAndGlyphs" >Reflected</text>
<text x="14.30" y="190.40" font-family="'Liberation Sans', Arial, sans-serif" font-size="7.3" font-weight="bold" fill="#2a92e0" stroke="#2a92e0" stroke-width="0.22" textLength="27.00" lengthAdjust="spacingAndGlyphs" >EM wave</text>
<text x="78.40" y="252.20" font-family="'Liberation Sans', Arial, sans-serif" font-size="6.6" font-weight="bold" fill="#a7822f" stroke="#a7822f" stroke-width="0.22" textLength="65.30" lengthAdjust="spacingAndGlyphs" >Transmitted EM wave</text>
<polygon points="42.4,210.4 68.5,222.7 69.3,243.1 43.1,227.5" fill="#1532c4"/>
<polygon points="68.5,222.7 96.9,211.8 96.2,226.6 69.3,243.1" fill="#0f2bb4"/>
<polygon points="42.4,210.4 69.3,199.5 96.9,211.8 68.5,222.7" fill="#1c3ce0"/>
<path d="M44.8,209.4 L71.1,221.7 M47.3,208.4 L73.7,220.7 M49.7,207.4 L76.2,219.7 M52.2,206.4 L78.8,218.7 M54.6,205.4 L81.4,217.7 M57.1,204.5 L84.0,216.8 M59.5,203.5 L86.6,215.8 M62.0,202.5 L89.2,214.8 M64.4,201.5 L91.7,213.8 M66.9,200.5 L94.3,212.8 " stroke="#0c1f9c" stroke-width="0.9" fill="none"/>
<path d="M44.8,211.5 L45.5,228.9 M71.1,221.7 L71.7,241.6 M47.1,212.6 L47.9,230.3 M73.7,220.7 L74.2,240.1 M49.5,213.8 L50.2,231.8 M76.2,219.7 L76.6,238.6 M51.9,214.9 L52.6,233.2 M78.8,218.7 L79.1,237.1 M54.3,216.0 L55.0,234.6 M81.4,217.7 L81.5,235.6 M56.6,217.1 L57.4,236.0 M84.0,216.8 L84.0,234.1 M59.0,218.2 L59.8,237.4 M86.6,215.8 L86.4,232.6 M61.4,219.3 L62.2,238.8 M89.2,214.8 L88.9,231.1 M63.8,220.5 L64.5,240.3 M91.7,213.8 L91.3,229.6 M66.1,221.6 L66.9,241.7 M94.3,212.8 L93.8,228.1 M42.5,213.2 L68.6,226.1 L96.8,214.3 M42.6,216.1 L68.8,229.5 L96.7,216.7 M42.8,218.9 L68.9,232.9 L96.6,219.2 M42.9,221.8 L69.0,236.3 L96.4,221.7 M43.0,224.7 L69.2,239.7 L96.3,224.1 " stroke="#0a1a88" stroke-width="0.6" fill="none"/>
<clipPath id="iclip"><rect x="67.1" y="154.4" width="51.5" height="41.8"/></clipPath>
<g clip-path="url(#iclip)"><rect x="67.1" y="154.4" width="51.5" height="41.8" fill="#7c7c7c"/><polygon points="67,154.4 101,154.4 93,166 90.5,196.2 67,183" fill="#2c2c2c"/><line x1="51.0" y1="154" x2="65.0" y2="176" stroke="#6a6a6a" stroke-width="1.6"/><line x1="57.5" y1="154" x2="71.5" y2="176" stroke="#6a6a6a" stroke-width="1.6"/><line x1="64.0" y1="154" x2="78.0" y2="176" stroke="#6a6a6a" stroke-width="1.6"/><line x1="70.5" y1="154" x2="84.5" y2="176" stroke="#6a6a6a" stroke-width="1.6"/><line x1="77.0" y1="154" x2="91.0" y2="176" stroke="#6a6a6a" stroke-width="1.6"/><line x1="83.5" y1="154" x2="97.5" y2="176" stroke="#6a6a6a" stroke-width="1.6"/><line x1="90.0" y1="154" x2="104.0" y2="176" stroke="#6a6a6a" stroke-width="1.6"/><line x1="96.5" y1="154" x2="110.5" y2="176" stroke="#6a6a6a" stroke-width="1.6"/><line x1="88" y1="170" x2="118.5" y2="160.5" stroke="#d8d8d8" stroke-width="1.1"/><line x1="88" y1="173" x2="118.5" y2="163.5" stroke="#3a3a3a" stroke-width="2.2"/><line x1="92" y1="178" x2="118.5" y2="169.5" stroke="#d8d8d8" stroke-width="1.1"/><line x1="92" y1="181" x2="118.5" y2="172.5" stroke="#3a3a3a" stroke-width="2.2"/><line x1="94" y1="186.5" x2="118.5" y2="178.5" stroke="#d8d8d8" stroke-width="1.1"/><line x1="94" y1="189.5" x2="118.5" y2="181.5" stroke="#3a3a3a" stroke-width="2.2"/><line x1="90" y1="194.5" x2="118.5" y2="187" stroke="#d8d8d8" stroke-width="1.1"/><line x1="90" y1="197.5" x2="118.5" y2="190" stroke="#3a3a3a" stroke-width="2.2"/><polygon points="67,183 90.5,196.3 67,196.3" fill="#e2e2e2"/></g>
<g stroke="#ee1c1c" stroke-width="1.3" fill="#ee1c1c"><line x1="80.2" y1="160.3" x2="89.6" y2="172.6"/><line x1="88.1" y1="165.7" x2="106.5" y2="158.8"/><polygon stroke="none" points="105.4,156.9 109.6,157.6 106.6,160.6"/></g>
<g stroke="#f4c820" stroke-width="0.9" fill="none"><polyline points="96,171 99,164.5 102,170 105.5,163.5 107.5,169"/></g>
<g fill="#f4c820"><circle cx="98.5" cy="166" r="1"/><circle cx="105" cy="164" r="1"/><circle cx="103" cy="170" r="1"/></g>
<text x="68.00" y="177.60" font-family="'Liberation Sans', Arial, sans-serif" font-size="6.4" font-weight="bold" fill="#ee2020" stroke="#ee2020" stroke-width="0.22" textLength="21.60" lengthAdjust="spacingAndGlyphs" >Induced</text>
<text x="68.00" y="185.00" font-family="'Liberation Sans', Arial, sans-serif" font-size="6.4" font-weight="bold" fill="#ee2020" stroke="#ee2020" stroke-width="0.22" textLength="22.00" lengthAdjust="spacingAndGlyphs" >currents</text>
<text x="96.40" y="179.00" font-family="'Liberation Sans', Arial, sans-serif" font-size="5.4" font-weight="bold" fill="#f2c420" stroke="#f2c420" stroke-width="0.22" textLength="16.70" lengthAdjust="spacingAndGlyphs" >Multiple</text>
<text x="94.00" y="184.30" font-family="'Liberation Sans', Arial, sans-serif" font-size="5.4" font-weight="bold" fill="#f2c420" stroke="#f2c420" stroke-width="0.22" textLength="23.00" lengthAdjust="spacingAndGlyphs" >reflections</text>
<rect x="118.6" y="154.4" width="56" height="41.4" fill="#eea21e"/>
<path d="M122.8,167.8 Q134,160.5 146,163.5 Q162,167.5 174.2,164.2 L174.2,177.5 Q161,187 146,184 Q132,181 120.6,184.8 Z" fill="#47423e"/>
<text x="123.30" y="159.40" font-family="'Liberation Sans', Arial, sans-serif" font-size="6.5" font-weight="bold" fill="#141414" stroke="#141414" stroke-width="0.22" textLength="46.80" lengthAdjust="spacingAndGlyphs" >Polarization loss</text>
<path d="M125.6,160.8 h4.4 M133.5,160.8 h4.4 M141.4,160.8 h4.4 M149.3,160.8 h4.4 M157.2,160.8 h4.4 M165.1,160.8 h4.4 M125.6,181.1 h4.4 M133.5,181.1 h4.4 M141.4,181.1 h4.4 M149.3,181.1 h4.4 M157.2,181.1 h4.4 M165.1,181.1 h4.4 " stroke="#2a44ea" stroke-width="1.5" fill="none"/>
<path d="M124.6,167.8 h5.4 M127.3,165.10000000000002 v5.4 M132.5,167.8 h5.4 M135.2,165.10000000000002 v5.4 M140.4,167.8 h5.4 M143.1,165.10000000000002 v5.4 M148.2,167.8 h5.4 M150.9,165.10000000000002 v5.4 M156.1,167.8 h5.4 M158.8,165.10000000000002 v5.4 M164.0,167.8 h5.4 M166.7,165.10000000000002 v5.4 M124.6,188.1 h5.4 M127.3,185.4 v5.4 M132.5,188.1 h5.4 M135.2,185.4 v5.4 M140.4,188.1 h5.4 M143.1,185.4 v5.4 M148.2,188.1 h5.4 M150.9,185.4 v5.4 M156.1,188.1 h5.4 M158.8,185.4 v5.4 M164.0,188.1 h5.4 M166.7,185.4 v5.4 " stroke="#ff1a1a" stroke-width="1.6" fill="none"/>
<rect x="67.1" y="154.4" width="107.5" height="41.6" fill="none" stroke="#cfa6c8" stroke-width="0.7"/>
<path d="M189.4,185.0 L263.9,219.1 M186.2,186.7 L259.8,224.4 M182.9,188.4 L255.7,229.6 M179.7,190.0 L251.6,234.9 M176.5,191.7 L247.4,240.1 M173.3,193.3 L243.3,245.4 M170.0,195.0 L239.2,250.6 M166.8,196.7 L235.1,255.9 " stroke="#1f3fe0" stroke-width="2.2" stroke-dasharray="3.4 2.8" fill="none"/>
<path d="M191.0,184.2 L266.0,216.5 M187.8,185.9 L261.9,221.8 M184.6,187.5 L257.8,227.0 M181.3,189.2 L253.6,232.2 M178.1,190.8 L249.5,237.5 M174.9,192.5 L245.4,242.8 M171.6,194.2 L241.2,248.0 M168.4,195.8 L237.1,253.2 M165.2,197.5 L233.0,258.5 " stroke="#f21818" stroke-width="2.9" fill="none"/>
<path d="M176.0,196.4 L246.5,246.5 M172.8,198.1 L242.4,251.8 M169.6,199.8 L238.3,257.0 M166.3,201.4 L234.2,262.3 " stroke="#f21818" stroke-width="2.4" fill="none"/>
<circle cx="166.6" cy="204.3" r="1.52" fill="#1c3ae0"/>
<circle cx="173.0" cy="209.7" r="1.61" fill="#1c3ae0"/>
<circle cx="179.3" cy="215.1" r="1.69" fill="#1c3ae0"/>
<circle cx="185.7" cy="220.5" r="1.77" fill="#1c3ae0"/>
<circle cx="192.1" cy="226.0" r="1.85" fill="#1c3ae0"/>
<circle cx="198.4" cy="231.4" r="1.93" fill="#1c3ae0"/>
<circle cx="204.8" cy="236.8" r="2.02" fill="#1c3ae0"/>
<circle cx="211.2" cy="242.2" r="2.10" fill="#1c3ae0"/>
<circle cx="217.5" cy="247.6" r="2.18" fill="#1c3ae0"/>
<circle cx="223.9" cy="253.0" r="2.26" fill="#1c3ae0"/>
<circle cx="230.2" cy="258.4" r="2.34" fill="#1c3ae0"/>
<circle cx="170.6" cy="201.7" r="1.52" fill="#1c3ae0"/>
<circle cx="177.0" cy="207.1" r="1.61" fill="#1c3ae0"/>
<circle cx="183.3" cy="212.5" r="1.69" fill="#1c3ae0"/>
<circle cx="189.7" cy="217.9" r="1.77" fill="#1c3ae0"/>
<circle cx="196.1" cy="223.4" r="1.85" fill="#1c3ae0"/>
<circle cx="202.4" cy="228.8" r="1.93" fill="#1c3ae0"/>
<circle cx="208.8" cy="234.2" r="2.02" fill="#1c3ae0"/>
<circle cx="215.2" cy="239.6" r="2.10" fill="#1c3ae0"/>
<circle cx="221.5" cy="245.0" r="2.18" fill="#1c3ae0"/>
<circle cx="227.9" cy="250.4" r="2.26" fill="#1c3ae0"/>
<circle cx="234.2" cy="255.8" r="2.34" fill="#1c3ae0"/>
<text x="128.40" y="231.10" font-family="'Liberation Sans', Arial, sans-serif" font-size="6.5" font-weight="bold" fill="#2a48e0" stroke="#2a48e0" stroke-width="0.22" textLength="49.40" lengthAdjust="spacingAndGlyphs" >Stabilizing layer</text>
<text x="123.20" y="238.60" font-family="'Liberation Sans', Arial, sans-serif" font-size="6.5" font-weight="bold" fill="#2a48e0" stroke="#2a48e0" stroke-width="0.22" textLength="61.40" lengthAdjust="spacingAndGlyphs" >with low strain level</text>
<g stroke="#111" stroke-width="0.8" fill="#111"><line x1="182" y1="229.5" x2="194.5" y2="223.2"/><polygon stroke="none" points="193.2,221.6 197.4,221.8 194.6,224.9"/><line x1="182" y1="232.2" x2="194.8" y2="233.3"/><polygon stroke="none" points="194.4,231.6 198,233.6 194.2,235.1"/></g>
<text x="43.60" y="268.10" font-family="'Liberation Sans', Arial, sans-serif" font-size="8.7" font-weight="bold" fill="#f02424" stroke="#f02424" stroke-width="0.22" textLength="50.70" lengthAdjust="spacingAndGlyphs" >Unstretched</text>
<text x="171.60" y="268.60" font-family="'Liberation Sans', Arial, sans-serif" font-size="8.7" font-weight="bold" fill="#f02424" stroke="#f02424" stroke-width="0.22" textLength="76.70" lengthAdjust="spacingAndGlyphs" >Stretched by 100%</text>
<rect x="254.5" y="238.6" width="3.8" height="29.2" fill="url(#cbar)"/>
<text x="265" y="231.8" font-family="'Liberation Serif', 'Times New Roman', serif" font-size="12.5" font-weight="bold" fill="#111">ε</text>
<text x="271.30" y="234.30" font-family="'Liberation Serif', 'Times New Roman', serif" font-size="8.2" font-weight="bold" fill="#111" stroke="#111" stroke-width="0.22" textLength="12.90" lengthAdjust="spacingAndGlyphs" >max</text>
<text x="260.60" y="239.90" font-family="'Liberation Sans', Arial, sans-serif" font-size="5.3" font-weight="bold" fill="#111" stroke="#111" stroke-width="0.22" textLength="27.70" lengthAdjust="spacingAndGlyphs" >+7.041E-01</text>
<text x="260.60" y="268.80" font-family="'Liberation Sans', Arial, sans-serif" font-size="5.3" font-weight="bold" fill="#111" stroke="#111" stroke-width="0.22" textLength="28.40" lengthAdjust="spacingAndGlyphs" >+9.320E-08</text>
<rect x="3.5" y="285.1" width="142.5" height="18.4" fill="#9DC3E6"/>
<text x="74.80" y="298.70" font-family="'Liberation Sans', Arial, sans-serif" font-size="12" font-weight="bold" fill="#000" stroke="#000" stroke-width="0.35" text-anchor="middle" >Wave absorption</text>
<path d="M3.6,304.5 V505.2 H546.4 V302.8 H147" fill="none" stroke="#8fb5e3" stroke-width="1.1" stroke-dasharray="4 4"/>
<text x="9.80" y="314.00" font-family="'Liberation Sans', Arial, sans-serif" font-size="10.6" font-weight="normal" fill="#222" stroke="#222" stroke-width="0.12" text-anchor="start" >(b)</text>
<radialGradient id="sph" cx="0.35" cy="0.35" r="0.7"><stop offset="0" stop-color="#9a9a9a"/><stop offset="1" stop-color="#3a3a3a"/></radialGradient>
<circle cx="20" cy="321.8" r="2.7" fill="url(#sph)"/>
<circle cx="28.8" cy="322" r="2.7" fill="url(#sph)"/>
<circle cx="23.6" cy="327" r="2.7" fill="url(#sph)"/>
<circle cx="33" cy="327" r="2.7" fill="url(#sph)"/>
<g stroke="#1a1a1a" stroke-width="1.9" stroke-linecap="round"><line x1="91.9" y1="320.9" x2="95.4" y2="322.7"/><line x1="97.3" y1="323.5" x2="101.3" y2="323.5"/><line x1="89.6" y1="326.2" x2="92.9" y2="324.6"/><line x1="93.8" y1="329.8" x2="95.7" y2="327.2"/></g>
<text x="7.80" y="341.30" font-family="'Liberation Sans', Arial, sans-serif" font-size="8.3" font-weight="bold" fill="#1a1a1a" stroke="#1a1a1a" stroke-width="0.22" textLength="53.50" lengthAdjust="spacingAndGlyphs" >Carbonyl iron</text>
<text x="77.80" y="340.20" font-family="'Liberation Sans', Arial, sans-serif" font-size="8.3" font-weight="bold" fill="#1a1a1a" stroke="#1a1a1a" stroke-width="0.22" textLength="37.80" lengthAdjust="spacingAndGlyphs" >Graphene</text>
<text x="12.30" y="409.70" font-family="'Liberation Sans', Arial, sans-serif" font-size="8.3" font-weight="bold" fill="#1a1a1a" stroke="#1a1a1a" stroke-width="0.22" textLength="42.70" lengthAdjust="spacingAndGlyphs" >Metakaolin</text>
<circle cx="23.0" cy="392.4" r="1.0" fill="#9a9a9a"/>
<circle cx="28.4" cy="391.7" r="1.0" fill="#9a9a9a"/>
<circle cx="26.5" cy="394.3" r="1.0" fill="#9a9a9a"/>
<circle cx="18.7" cy="395.6" r="1.0" fill="#9a9a9a"/>
<circle cx="18.3" cy="394.9" r="1.0" fill="#9a9a9a"/>
<circle cx="18.9" cy="391.8" r="1.0" fill="#9a9a9a"/>
<circle cx="24.7" cy="398.4" r="1.0" fill="#9a9a9a"/>
<circle cx="19.7" cy="393.0" r="1.0" fill="#9a9a9a"/>
<circle cx="28.1" cy="399.5" r="1.0" fill="#9a9a9a"/>
<circle cx="27.2" cy="394.6" r="1.0" fill="#9a9a9a"/>
<circle cx="33.8" cy="391.4" r="1.0" fill="#9a9a9a"/>
<circle cx="31.9" cy="393.6" r="1.0" fill="#9a9a9a"/>
<circle cx="20.1" cy="392.1" r="1.0" fill="#9a9a9a"/>
<circle cx="22.8" cy="398.3" r="1.0" fill="#9a9a9a"/>
<line x1="31.8" y1="343" x2="38.7" y2="349.8" stroke="#e83838" stroke-width="0.8"/><polygon points="40.5,351.6 37.8,350.6 39.5,348.9" fill="#e83838"/>
<line x1="86" y1="343" x2="79.4" y2="349.5" stroke="#e83838" stroke-width="0.8"/><polygon points="77.6,351.3 78.6,348.6 80.3,350.3" fill="#e83838"/>
<line x1="37.5" y1="390.5" x2="44.2" y2="384.9" stroke="#e83838" stroke-width="0.8"/><polygon points="46.2,383.2 45.0,385.8 43.4,384.0" fill="#e83838"/>
<ellipse cx="59.8" cy="381" rx="13.6" ry="2.3" fill="#d8d8d8"/>
<path d="M47.3,357.2 Q53,355.2 59,357 Q66,359 72.3,357.8 L72.3,379.5 Q59.8,382.8 47.3,379.5 Z" fill="url(#brown)"/>
<path d="M47.3,377 Q59.8,380.5 72.3,377 L72.3,379.5 Q59.8,382.8 47.3,379.5 Z" fill="#3a2a16" opacity="0.7"/>
<path d="M46.5,380 Q59.8,383.6 73,380 L73,381.5 Q59.8,385 46.5,381.5 Z" fill="#bdb8b2"/>
<text x="55.20" y="367.80" font-family="'Liberation Sans', Arial, sans-serif" font-size="4.2" font-weight="bold" fill="#f4eee6" stroke="#f4eee6" stroke-width="0.22" textLength="7.40" lengthAdjust="spacingAndGlyphs" >CIG</text>
<text x="49.50" y="373.40" font-family="'Liberation Sans', Arial, sans-serif" font-size="3.6" font-weight="bold" fill="#f4eee6" stroke="#f4eee6" stroke-width="0.22" textLength="20.50" lengthAdjust="spacingAndGlyphs" >suspension</text>
<ellipse cx="130.5" cy="378.5" rx="14.2" ry="2.6" fill="#c8c6c2"/>
<path d="M118.2,355.6 Q124,353.6 130,355.4 Q137,357.2 142.7,356.2 L142.7,377.5 Q130.5,381 118.2,377.5 Z" fill="url(#grayb)"/>
<line x1="116.5" y1="350.3" x2="145.5" y2="350.3" stroke="#d0d0d0" stroke-width="0.6"/>
<line x1="45.5" y1="352.5" x2="74" y2="352.5" stroke="#d4d4d4" stroke-width="0.6"/>
<text x="126.70" y="366.60" font-family="'Liberation Sans', Arial, sans-serif" font-size="4.2" font-weight="bold" fill="#f0ece6" stroke="#f0ece6" stroke-width="0.22" textLength="7.40" lengthAdjust="spacingAndGlyphs" >CIG</text>
<text x="120.20" y="372.20" font-family="'Liberation Sans', Arial, sans-serif" font-size="3.6" font-weight="bold" fill="#f0ece6" stroke="#f0ece6" stroke-width="0.22" textLength="20.50" lengthAdjust="spacingAndGlyphs" >geopolymer</text>
<polygon points="72.5,360.4 98.9,360.4 98.9,351.5 117.2,367.5 98.9,383.5 98.9,374.7 72.5,374.7" fill="url(#barrow)"/>
<polygon points="151.5,360.5 173.8,360.5 173.8,352.3 191.9,367.5 173.8,382.9 173.8,374.5 151.5,374.5" fill="url(#barrow2)"/>
<text x="73.70" y="370.00" font-family="'Liberation Sans', Arial, sans-serif" font-size="8.0" font-weight="bold" fill="#1a1a1a" stroke="#1a1a1a" stroke-width="0.22" textLength="37.60" lengthAdjust="spacingAndGlyphs" >Ball milling</text>
<text x="156.60" y="370.40" font-family="'Liberation Sans', Arial, sans-serif" font-size="8.0" font-weight="bold" fill="#1a1a1a" stroke="#1a1a1a" stroke-width="0.22" textLength="22.40" lengthAdjust="spacingAndGlyphs" >Mixing</text>
<line x1="131" y1="399.4" x2="131" y2="389" stroke="#58bc50" stroke-width="1.2"/>
<circle cx="131" cy="388" r="1.3" fill="#3c9a40"/>
<path d="M131.4,402.8 Q132.8,404.7 131.4,405.9 Q130.0,404.7 131.4,402.8Z" fill="#36a4f0"/>
<path d="M128.2,405.5 Q129.6,407.4 128.2,408.59999999999997 Q126.79999999999998,407.4 128.2,405.5Z" fill="#36a4f0"/>
<path d="M131.6,406.8 Q133.0,408.7 131.6,409.9 Q130.2,408.7 131.6,406.8Z" fill="#36a4f0"/>
<path d="M134.9,408.5 Q136.3,410.4 134.9,411.59999999999997 Q133.5,410.4 134.9,408.5Z" fill="#36a4f0"/>
<path d="M126,410.8 Q127.4,412.7 126,413.9 Q124.6,412.7 126,410.8Z" fill="#36a4f0"/>
<path d="M130.1,411.5 Q131.5,413.4 130.1,414.59999999999997 Q128.7,413.4 130.1,411.5Z" fill="#36a4f0"/>
<path d="M136.5,411.5 Q137.9,413.4 136.5,414.59999999999997 Q135.1,413.4 136.5,411.5Z" fill="#36a4f0"/>
<text x="102.40" y="424.10" font-family="'Liberation Sans', Arial, sans-serif" font-size="8.3" font-weight="bold" fill="#1a1a1a" stroke="#1a1a1a" stroke-width="0.22" textLength="44.00" lengthAdjust="spacingAndGlyphs" >Compound</text>
<text x="102.40" y="434.10" font-family="'Liberation Sans', Arial, sans-serif" font-size="8.3" font-weight="bold" fill="#1a1a1a" stroke="#1a1a1a" stroke-width="0.22" textLength="57.60" lengthAdjust="spacingAndGlyphs" >alkali activator</text>
<path d="M204,308.3 H235.6 V312.3 H230.4 V348.5 L224.5,351.5 V355.5 H214 V351.5 L209,348.5 V312.3 H204 Z" fill="#22a9ee" stroke="#2a2a2a" stroke-width="0.8"/>
<path d="M237.5,308.3 H270 V312.3 H264.6 V348.5 L258,351.5 V355.5 H248 V351.5 L242.2,348.5 V312.3 H237.5 Z" fill="#f592c2" stroke="#2a2a2a" stroke-width="0.8"/>
<path d="M208.1,355.2 H265.4 V396.4 L250,403.6 V407.3 L241.5,416.5 H233 L223.3,407.3 V403.6 L208.1,396.4 Z" fill="#7c7c7c" stroke="#5a5a5a" stroke-width="0.6"/>
<path d="M208.6,378 H264.9 V396 L249.6,403.2 V407 L241.3,416 H233.2 L223.7,407 V403.2 L208.6,396 Z" fill="#8e8e8e"/>
<polygon points="212.4,378 261,378 261,389.8 248,401.8 248,405 240.5,413.5 233.5,413.5 225.5,405 225.5,401.8 212.4,389.8" fill="#d3d3d3"/>
<rect x="215.3" y="355.2" width="7.7" height="6.8" fill="#4a4a4a"/><rect x="249" y="355.2" width="7.7" height="6.8" fill="#4a4a4a"/>
<rect x="216.6" y="362" width="5.2" height="17" fill="#22a9ee" stroke="#333" stroke-width="0.5" stroke-dasharray="1 0.8"/>
<rect x="250.3" y="362" width="5.2" height="17" fill="#f592c2" stroke="#333" stroke-width="0.5" stroke-dasharray="1 0.8"/>
<polyline points="219.2,379 219.2,384 233.5,398 234.6,414" fill="none" stroke="#22a9ee" stroke-width="2.8"/>
<polyline points="252.9,379 252.9,384 240.5,398 239.6,414" fill="none" stroke="#f592c2" stroke-width="2.8"/>
<polygon points="231.6,413.8 242.2,413.8 241.2,430 238.6,448 237.2,455 235.6,448 233,430" fill="#c2b6e2" stroke="#8a8a8a" stroke-width="0.7"/>
<line x1="235.9" y1="414" x2="236.7" y2="451" stroke="#7fc4f2" stroke-width="1.6" stroke-dasharray="1.2 1.2"/>
<line x1="238.5" y1="414" x2="237.7" y2="451" stroke="#f4a6cc" stroke-width="1.6" stroke-dasharray="1.2 1.2" stroke-dashoffset="1.2"/>
<g stroke="#555" stroke-width="0.7"><line x1="203.1" y1="341.5" x2="215.6" y2="341.5"/><line x1="259.9" y1="341.3" x2="270.2" y2="341.3"/><line x1="255" y1="366.9" x2="275.7" y2="366.9"/><line x1="198.8" y1="389.4" x2="217.2" y2="389.4"/><line x1="240" y1="420.7" x2="258.6" y2="420.7"/><line x1="216" y1="441" x2="236.7" y2="441"/></g>
<text x="163.30" y="343.60" font-family="'Liberation Sans', Arial, sans-serif" font-size="8.2" font-weight="bold" fill="#1a1a1a" stroke="#1a1a1a" stroke-width="0.22" textLength="38.70" lengthAdjust="spacingAndGlyphs" >Material A</text>
<text x="271.00" y="344.30" font-family="'Liberation Sans', Arial, sans-serif" font-size="8.2" font-weight="bold" fill="#1a1a1a" stroke="#1a1a1a" stroke-width="0.22" textLength="39.60" lengthAdjust="spacingAndGlyphs" >Material B</text>
<text x="276.60" y="363.60" font-family="'Liberation Sans', Arial, sans-serif" font-size="8.2" font-weight="bold" fill="#1a1a1a" stroke="#1a1a1a" stroke-width="0.22" textLength="23.70" lengthAdjust="spacingAndGlyphs" >Screw</text>
<text x="276.60" y="373.10" font-family="'Liberation Sans', Arial, sans-serif" font-size="8.2" font-weight="bold" fill="#1a1a1a" stroke="#1a1a1a" stroke-width="0.22" textLength="22.60" lengthAdjust="spacingAndGlyphs" >pump</text>
<text x="166.50" y="392.40" font-family="'Liberation Sans', Arial, sans-serif" font-size="8.2" font-weight="bold" fill="#1a1a1a" stroke="#1a1a1a" stroke-width="0.22" textLength="31.00" lengthAdjust="spacingAndGlyphs" >Vacuum</text>
<text x="170.90" y="402.40" font-family="'Liberation Sans', Arial, sans-serif" font-size="8.2" font-weight="bold" fill="#1a1a1a" stroke="#1a1a1a" stroke-width="0.22" textLength="22.90" lengthAdjust="spacingAndGlyphs" >pump</text>
<text x="260.70" y="417.00" font-family="'Liberation Sans', Arial, sans-serif" font-size="8.2" font-weight="bold" fill="#1a1a1a" stroke="#1a1a1a" stroke-width="0.22" textLength="26.20" lengthAdjust="spacingAndGlyphs" >Mixing</text>
<text x="265.10" y="426.40" font-family="'Liberation Sans', Arial, sans-serif" font-size="8.2" font-weight="bold" fill="#1a1a1a" stroke="#1a1a1a" stroke-width="0.22" textLength="17.00" lengthAdjust="spacingAndGlyphs" >tube</text>
<text x="189.80" y="440.20" font-family="'Liberation Sans', Arial, sans-serif" font-size="8.2" font-weight="bold" fill="#1a1a1a" stroke="#1a1a1a" stroke-width="0.22" textLength="22.90" lengthAdjust="spacingAndGlyphs" >Mixed</text>
<text x="185.50" y="449.40" font-family="'Liberation Sans', Arial, sans-serif" font-size="8.2" font-weight="bold" fill="#1a1a1a" stroke="#1a1a1a" stroke-width="0.22" textLength="31.60" lengthAdjust="spacingAndGlyphs" >material</text>
<polygon points="198.2,464.6 266.5,462.0 271.8,471.2 199.8,473.0" fill="#f08cc6"/>
<polygon points="199.8,473.0 271.8,471.2 272.3,473.9 199.8,476.4" fill="#e278b6" opacity="1"/>
<polygon points="199.8,476.4 272.3,473.9 272.8,476.8 199.7,480.2" fill="#f2c4de" opacity="1"/>
<polygon points="199.7,480.2 272.8,476.8 273.2,478.9 199.7,482.8" fill="#c89ad6" opacity="1"/>
<polygon points="199.7,482.8 273.2,478.9 273.9,482.8 199.6,487.8" fill="#c2b6ee" opacity="1"/>
<polygon points="199.6,487.8 273.9,482.8 274.2,484.9 199.6,490.5" fill="#92a6ea" opacity="1"/>
<polygon points="199.6,490.5 274.2,484.9 275.0,489.1 199.5,495.8" fill="#56b4ee" opacity="1"/>
<polygon points="199.5,495.8 275.0,489.1 275.5,492.0 199.5,499.5" fill="#1fa2e8" opacity="1"/>
<ellipse cx="201.4" cy="478.2" rx="1.32" ry="1.26" fill="#fbe8f3" opacity="1"/><ellipse cx="204.7" cy="478.1" rx="1.31" ry="1.24" fill="#fbe8f3" opacity="1"/><ellipse cx="208.0" cy="478.0" rx="1.29" ry="1.23" fill="#fbe8f3" opacity="1"/><ellipse cx="211.3" cy="477.8" rx="1.28" ry="1.22" fill="#fbe8f3" opacity="1"/><ellipse cx="214.6" cy="477.7" rx="1.27" ry="1.21" fill="#fbe8f3" opacity="1"/><ellipse cx="217.9" cy="477.6" rx="1.25" ry="1.19" fill="#fbe8f3" opacity="1"/><ellipse cx="221.2" cy="477.4" rx="1.24" ry="1.18" fill="#fbe8f3" opacity="1"/><ellipse cx="224.6" cy="477.3" rx="1.23" ry="1.17" fill="#fbe8f3" opacity="1"/><ellipse cx="227.9" cy="477.2" rx="1.21" ry="1.16" fill="#fbe8f3" opacity="1"/><ellipse cx="231.2" cy="477.0" rx="1.20" ry="1.14" fill="#fbe8f3" opacity="1"/><ellipse cx="234.5" cy="476.9" rx="1.19" ry="1.13" fill="#fbe8f3" opacity="1"/><ellipse cx="237.8" cy="476.8" rx="1.18" ry="1.12" fill="#fbe8f3" opacity="1"/><ellipse cx="241.1" cy="476.6" rx="1.16" ry="1.11" fill="#fbe8f3" opacity="1"/><ellipse cx="244.4" cy="476.5" rx="1.15" ry="1.09" fill="#fbe8f3" opacity="1"/><ellipse cx="247.7" cy="476.4" rx="1.14" ry="1.08" fill="#fbe8f3" opacity="1"/><ellipse cx="251.0" cy="476.2" rx="1.12" ry="1.07" fill="#fbe8f3" opacity="1"/><ellipse cx="254.3" cy="476.1" rx="1.11" ry="1.06" fill="#fbe8f3" opacity="1"/><ellipse cx="257.6" cy="476.0" rx="1.10" ry="1.05" fill="#fbe8f3" opacity="1"/><ellipse cx="261.0" cy="475.8" rx="1.08" ry="1.03" fill="#fbe8f3" opacity="1"/><ellipse cx="264.3" cy="475.7" rx="1.07" ry="1.02" fill="#fbe8f3" opacity="1"/><ellipse cx="267.6" cy="475.6" rx="1.06" ry="1.01" fill="#fbe8f3" opacity="1"/><ellipse cx="270.9" cy="475.4" rx="1.05" ry="1.00" fill="#fbe8f3" opacity="1"/>
<ellipse cx="202.3" cy="485.2" rx="2.20" ry="2.10" fill="#ece6fb" opacity="1"/><ellipse cx="207.6" cy="484.8" rx="2.17" ry="2.07" fill="#ece6fb" opacity="1"/><ellipse cx="212.8" cy="484.5" rx="2.14" ry="2.03" fill="#ece6fb" opacity="1"/><ellipse cx="218.1" cy="484.2" rx="2.10" ry="2.00" fill="#ece6fb" opacity="1"/><ellipse cx="223.4" cy="483.9" rx="2.07" ry="1.97" fill="#ece6fb" opacity="1"/><ellipse cx="228.7" cy="483.6" rx="2.03" ry="1.94" fill="#ece6fb" opacity="1"/><ellipse cx="234.0" cy="483.3" rx="2.00" ry="1.90" fill="#ece6fb" opacity="1"/><ellipse cx="239.2" cy="482.9" rx="1.96" ry="1.87" fill="#ece6fb" opacity="1"/><ellipse cx="244.5" cy="482.6" rx="1.93" ry="1.84" fill="#ece6fb" opacity="1"/><ellipse cx="249.8" cy="482.3" rx="1.90" ry="1.81" fill="#ece6fb" opacity="1"/><ellipse cx="255.1" cy="482.0" rx="1.86" ry="1.77" fill="#ece6fb" opacity="1"/><ellipse cx="260.3" cy="481.7" rx="1.83" ry="1.74" fill="#ece6fb" opacity="1"/><ellipse cx="265.6" cy="481.3" rx="1.79" ry="1.71" fill="#ece6fb" opacity="1"/><ellipse cx="270.9" cy="481.0" rx="1.76" ry="1.68" fill="#ece6fb" opacity="1"/>
<ellipse cx="203.3" cy="492.8" rx="2.53" ry="2.41" fill="#9ad6f8" opacity="1"/><ellipse cx="210.8" cy="492.2" rx="2.48" ry="2.36" fill="#9ad6f8" opacity="1"/><ellipse cx="218.3" cy="491.6" rx="2.42" ry="2.31" fill="#9ad6f8" opacity="1"/><ellipse cx="225.8" cy="491.0" rx="2.37" ry="2.25" fill="#9ad6f8" opacity="1"/><ellipse cx="233.3" cy="490.4" rx="2.31" ry="2.20" fill="#9ad6f8" opacity="1"/><ellipse cx="240.8" cy="489.8" rx="2.26" ry="2.15" fill="#9ad6f8" opacity="1"/><ellipse cx="248.3" cy="489.2" rx="2.20" ry="2.10" fill="#9ad6f8" opacity="1"/><ellipse cx="255.9" cy="488.5" rx="2.15" ry="2.04" fill="#9ad6f8" opacity="1"/><ellipse cx="263.4" cy="487.9" rx="2.09" ry="1.99" fill="#9ad6f8" opacity="1"/><ellipse cx="270.9" cy="487.3" rx="2.04" ry="1.94" fill="#9ad6f8" opacity="1"/>
<polygon points="30.5,459 114,457 122.3,461.8 122.3,488 113.3,494 36.7,494.5 30.5,488" fill="#e8eaee" stroke="#d2d6dc" stroke-width="0.6"/>
<polygon points="113.3,466 120.5,461.5 120.5,486 113.3,490" fill="#c9d2e6"/>
<polygon points="113.3,478 120.5,474.5 120.5,485.5 113.3,489" fill="#6ab8ec"/>
<polygon points="44.0,458.3 111.0,457.3 113.3,466.0 36.7,467.0" fill="#d4729f"/>
<polygon points="36.7,467.0 113.3,466.0 113.3,470.8 36.7,471.8" fill="#cf86ae" opacity="1"/>
<polygon points="36.7,471.8 113.3,470.8 113.3,473.9 36.7,474.9" fill="#b996c6" opacity="1"/>
<polygon points="36.7,474.9 113.3,473.9 113.3,476.8 36.7,477.8" fill="#98a2d8" opacity="1"/>
<polygon points="36.7,477.8 113.3,476.8 113.3,488.1 36.7,489.1" fill="#36a6ec" opacity="1"/>
<polygon points="36.7,489.1 113.3,488.1 113.3,490.0 36.7,491.0" fill="#8cc6ea" opacity="1"/>
<ellipse cx="38.3" cy="469.6" rx="1.36" ry="1.30" fill="#ecc4da" opacity="1"/><ellipse cx="41.5" cy="469.6" rx="1.36" ry="1.30" fill="#ecc4da" opacity="1"/><ellipse cx="44.7" cy="469.5" rx="1.36" ry="1.30" fill="#ecc4da" opacity="1"/><ellipse cx="47.9" cy="469.5" rx="1.36" ry="1.30" fill="#ecc4da" opacity="1"/><ellipse cx="51.1" cy="469.5" rx="1.36" ry="1.30" fill="#ecc4da" opacity="1"/><ellipse cx="54.3" cy="469.4" rx="1.36" ry="1.30" fill="#ecc4da" opacity="1"/><ellipse cx="57.4" cy="469.4" rx="1.36" ry="1.30" fill="#ecc4da" opacity="1"/><ellipse cx="60.6" cy="469.3" rx="1.36" ry="1.30" fill="#ecc4da" opacity="1"/><ellipse cx="63.8" cy="469.3" rx="1.36" ry="1.30" fill="#ecc4da" opacity="1"/><ellipse cx="67.0" cy="469.2" rx="1.36" ry="1.30" fill="#ecc4da" opacity="1"/><ellipse cx="70.2" cy="469.2" rx="1.36" ry="1.30" fill="#ecc4da" opacity="1"/><ellipse cx="73.4" cy="469.2" rx="1.36" ry="1.30" fill="#ecc4da" opacity="1"/><ellipse cx="76.6" cy="469.1" rx="1.36" ry="1.30" fill="#ecc4da" opacity="1"/><ellipse cx="79.8" cy="469.1" rx="1.36" ry="1.30" fill="#ecc4da" opacity="1"/><ellipse cx="83.0" cy="469.0" rx="1.36" ry="1.30" fill="#ecc4da" opacity="1"/><ellipse cx="86.2" cy="469.0" rx="1.36" ry="1.30" fill="#ecc4da" opacity="1"/><ellipse cx="89.4" cy="469.0" rx="1.36" ry="1.30" fill="#ecc4da" opacity="1"/><ellipse cx="92.6" cy="468.9" rx="1.36" ry="1.30" fill="#ecc4da" opacity="1"/><ellipse cx="95.7" cy="468.9" rx="1.36" ry="1.30" fill="#ecc4da" opacity="1"/><ellipse cx="98.9" cy="468.8" rx="1.36" ry="1.30" fill="#ecc4da" opacity="1"/><ellipse cx="102.1" cy="468.8" rx="1.36" ry="1.30" fill="#ecc4da" opacity="1"/><ellipse cx="105.3" cy="468.7" rx="1.36" ry="1.30" fill="#ecc4da" opacity="1"/><ellipse cx="108.5" cy="468.7" rx="1.36" ry="1.30" fill="#ecc4da" opacity="1"/><ellipse cx="111.7" cy="468.7" rx="1.36" ry="1.30" fill="#ecc4da" opacity="1"/>
<ellipse cx="40.2" cy="483.5" rx="4.02" ry="3.83" fill="#6cc4f6" opacity="1"/><ellipse cx="47.1" cy="483.4" rx="4.02" ry="3.83" fill="#6cc4f6" opacity="1"/><ellipse cx="54.1" cy="483.3" rx="4.02" ry="3.83" fill="#6cc4f6" opacity="1"/><ellipse cx="61.1" cy="483.2" rx="4.02" ry="3.83" fill="#6cc4f6" opacity="1"/><ellipse cx="68.0" cy="483.2" rx="4.02" ry="3.83" fill="#6cc4f6" opacity="1"/><ellipse cx="75.0" cy="483.1" rx="4.02" ry="3.83" fill="#6cc4f6" opacity="1"/><ellipse cx="82.0" cy="483.0" rx="4.02" ry="3.83" fill="#6cc4f6" opacity="1"/><ellipse cx="88.9" cy="482.9" rx="4.02" ry="3.83" fill="#6cc4f6" opacity="1"/><ellipse cx="95.9" cy="482.8" rx="4.02" ry="3.83" fill="#6cc4f6" opacity="1"/><ellipse cx="102.9" cy="482.7" rx="4.02" ry="3.83" fill="#6cc4f6" opacity="1"/><ellipse cx="109.8" cy="482.6" rx="4.02" ry="3.83" fill="#6cc4f6" opacity="1"/>
<line x1="36.7" y1="467" x2="113.3" y2="466" stroke="#f6e8f0" stroke-width="0.8"/>
<polygon points="126.3,458.3 179.1,458.3 179.1,451.9 191.6,471.6 179.1,491.6 179.1,483.7 126.3,483.7" fill="url(#barrow3)"/>
<text x="142.20" y="465.90" font-family="'Liberation Sans', Arial, sans-serif" font-size="7.1" font-weight="bold" fill="#1a1a1a" stroke="#1a1a1a" stroke-width="0.22" textLength="26.70" lengthAdjust="spacingAndGlyphs" >Gradual</text>
<text x="136.50" y="474.20" font-family="'Liberation Sans', Arial, sans-serif" font-size="7.1" font-weight="bold" fill="#1a1a1a" stroke="#1a1a1a" stroke-width="0.22" textLength="37.90" lengthAdjust="spacingAndGlyphs" >parameters</text>
<text x="136.70" y="481.90" font-family="'Liberation Sans', Arial, sans-serif" font-size="7.1" font-weight="bold" fill="#1a1a1a" stroke="#1a1a1a" stroke-width="0.22" textLength="37.30" lengthAdjust="spacingAndGlyphs" >adjustment</text>
<rect x="343.4" y="320.8" width="185.3" height="148.7" fill="#fff"/>
<clipPath id="fclip"><rect x="343.4" y="361.5" width="185.3" height="110"/></clipPath>
<path d="M343.50,340.60 C344.00,340.70 345.45,341.17 346.50,341.20 C347.55,341.23 348.72,341.00 349.80,340.80 C350.88,340.60 351.85,340.20 353.00,340.00 C354.15,339.80 355.62,339.43 356.70,339.60 C357.78,339.77 358.68,340.33 359.50,341.00 C360.32,341.67 360.93,342.60 361.60,343.60 C362.27,344.60 362.85,345.70 363.50,347.00 C364.15,348.30 364.83,349.82 365.50,351.40 C366.17,352.98 366.83,354.70 367.50,356.50 C368.17,358.30 368.92,360.37 369.50,362.20 C370.08,364.03 370.52,365.70 371.00,367.50 C371.48,369.30 371.90,371.17 372.40,373.00 C372.90,374.83 373.50,376.93 374.00,378.50 C374.50,380.07 374.85,381.30 375.40,382.40 C375.95,383.50 376.65,384.45 377.30,385.10 C377.95,385.75 378.15,385.85 379.30,386.30 C380.45,386.75 382.92,387.35 384.20,387.80 C385.48,388.25 386.02,388.62 387.00,389.00 C387.98,389.38 389.02,390.10 390.10,390.10 C391.18,390.10 392.35,389.55 393.50,389.00 C394.65,388.45 395.75,387.75 397.00,386.80 C398.25,385.85 399.70,384.43 401.00,383.30 C402.30,382.17 403.52,380.97 404.80,380.00 C406.08,379.03 407.38,378.17 408.70,377.50 C410.02,376.83 411.38,376.22 412.70,376.00 C414.02,375.78 415.30,376.03 416.60,376.20 C417.90,376.37 419.02,376.43 420.50,377.00 C421.98,377.57 423.85,378.62 425.50,379.60 C427.15,380.58 428.22,381.12 430.40,382.90 C432.58,384.68 436.33,388.20 438.60,390.30 C440.87,392.40 442.18,393.97 444.00,395.50 C445.82,397.03 448.17,398.92 449.50,399.50 C450.83,400.08 450.92,399.50 452.00,399.00 C453.08,398.50 454.27,397.23 456.00,396.50 C457.73,395.77 460.40,394.85 462.40,394.60 C464.40,394.35 465.83,394.47 468.00,395.00 C470.17,395.53 473.57,396.88 475.40,397.80 C477.23,398.72 477.92,399.42 479.00,400.50 C480.08,401.58 481.07,402.88 481.90,404.30 C482.73,405.72 483.47,407.85 484.00,409.00 C484.53,410.15 484.68,411.20 485.10,411.20 C485.52,411.20 486.02,409.95 486.50,409.00 C486.98,408.05 487.33,406.38 488.00,405.50 C488.67,404.62 489.33,403.98 490.50,403.70 C491.67,403.42 493.55,403.58 495.00,403.80 C496.45,404.02 497.53,404.38 499.20,405.00 C500.87,405.62 503.20,406.65 505.00,407.50 C506.80,408.35 508.50,409.22 510.00,410.10 C511.50,410.98 512.75,411.78 514.00,412.80 C515.25,413.82 516.50,415.00 517.50,416.20 C518.50,417.40 519.27,418.57 520.00,420.00 C520.73,421.43 521.40,422.80 521.90,424.80 C522.40,426.80 522.72,428.63 523.00,432.00 C523.28,435.37 523.43,440.35 523.60,445.00 C523.77,449.65 523.85,459.07 524.00,459.90 C524.15,460.73 524.32,453.68 524.50,450.00 C524.68,446.32 524.90,443.13 525.10,437.80 C525.30,432.47 525.52,424.13 525.70,418.00 C525.88,411.87 525.90,403.58 526.20,401.00 C526.50,398.42 527.08,401.95 527.50,402.50 C527.92,403.05 528.50,404.00 528.70,404.30 L528.7,361.5 L343.5,361.5 Z" fill="#fbd697" clip-path="url(#fclip)"/>
<line x1="343.4" y1="361.6" x2="528.7" y2="361.6" stroke="#ee3030" stroke-width="1.5" stroke-dasharray="1.5 1.5"/>
<path d="M343.50,340.60 C344.00,340.70 345.45,341.17 346.50,341.20 C347.55,341.23 348.72,341.00 349.80,340.80 C350.88,340.60 351.85,340.20 353.00,340.00 C354.15,339.80 355.62,339.43 356.70,339.60 C357.78,339.77 358.68,340.33 359.50,341.00 C360.32,341.67 360.93,342.60 361.60,343.60 C362.27,344.60 362.85,345.70 363.50,347.00 C364.15,348.30 364.83,349.82 365.50,351.40 C366.17,352.98 366.83,354.70 367.50,356.50 C368.17,358.30 368.92,360.37 369.50,362.20 C370.08,364.03 370.52,365.70 371.00,367.50 C371.48,369.30 371.90,371.17 372.40,373.00 C372.90,374.83 373.50,376.93 374.00,378.50 C374.50,380.07 374.85,381.30 375.40,382.40 C375.95,383.50 376.65,384.45 377.30,385.10 C377.95,385.75 378.15,385.85 379.30,386.30 C380.45,386.75 382.92,387.35 384.20,387.80 C385.48,388.25 386.02,388.62 387.00,389.00 C387.98,389.38 389.02,390.10 390.10,390.10 C391.18,390.10 392.35,389.55 393.50,389.00 C394.65,388.45 395.75,387.75 397.00,386.80 C398.25,385.85 399.70,384.43 401.00,383.30 C402.30,382.17 403.52,380.97 404.80,380.00 C406.08,379.03 407.38,378.17 408.70,377.50 C410.02,376.83 411.38,376.22 412.70,376.00 C414.02,375.78 415.30,376.03 416.60,376.20 C417.90,376.37 419.02,376.43 420.50,377.00 C421.98,377.57 423.85,378.62 425.50,379.60 C427.15,380.58 428.22,381.12 430.40,382.90 C432.58,384.68 436.33,388.20 438.60,390.30 C440.87,392.40 442.18,393.97 444.00,395.50 C445.82,397.03 448.17,398.92 449.50,399.50 C450.83,400.08 450.92,399.50 452.00,399.00 C453.08,398.50 454.27,397.23 456.00,396.50 C457.73,395.77 460.40,394.85 462.40,394.60 C464.40,394.35 465.83,394.47 468.00,395.00 C470.17,395.53 473.57,396.88 475.40,397.80 C477.23,398.72 477.92,399.42 479.00,400.50 C480.08,401.58 481.07,402.88 481.90,404.30 C482.73,405.72 483.47,407.85 484.00,409.00 C484.53,410.15 484.68,411.20 485.10,411.20 C485.52,411.20 486.02,409.95 486.50,409.00 C486.98,408.05 487.33,406.38 488.00,405.50 C488.67,404.62 489.33,403.98 490.50,403.70 C491.67,403.42 493.55,403.58 495.00,403.80 C496.45,404.02 497.53,404.38 499.20,405.00 C500.87,405.62 503.20,406.65 505.00,407.50 C506.80,408.35 508.50,409.22 510.00,410.10 C511.50,410.98 512.75,411.78 514.00,412.80 C515.25,413.82 516.50,415.00 517.50,416.20 C518.50,417.40 519.27,418.57 520.00,420.00 C520.73,421.43 521.40,422.80 521.90,424.80 C522.40,426.80 522.72,428.63 523.00,432.00 C523.28,435.37 523.43,440.35 523.60,445.00 C523.77,449.65 523.85,459.07 524.00,459.90 C524.15,460.73 524.32,453.68 524.50,450.00 C524.68,446.32 524.90,443.13 525.10,437.80 C525.30,432.47 525.52,424.13 525.70,418.00 C525.88,411.87 525.90,403.58 526.20,401.00 C526.50,398.42 527.08,401.95 527.50,402.50 C527.92,403.05 528.50,404.00 528.70,404.30" fill="none" stroke="#2e2e2e" stroke-width="1"/>
<path d="M343.4,334.1 h-2.8 M528.7,334.1 h-2.8 M343.4,347.6 h-1.6 M528.7,347.6 h-1.6 M343.4,361.2 h-2.8 M528.7,361.2 h-2.8 M343.4,374.7 h-1.6 M528.7,374.7 h-1.6 M343.4,388.3 h-2.8 M528.7,388.3 h-2.8 M343.4,401.8 h-1.6 M528.7,401.8 h-1.6 M343.4,415.3 h-2.8 M528.7,415.3 h-2.8 M343.4,428.9 h-1.6 M528.7,428.9 h-1.6 M343.4,442.4 h-2.8 M528.7,442.4 h-2.8 M343.4,456.0 h-1.6 M528.7,456.0 h-1.6 M343.4,469.5 h-2.8 M528.7,469.5 h-2.8 M343.4,469.5 v1.6 M343.4,320.8 v1.6 M354.3,469.5 v2.8 M354.3,320.8 v2.8 M365.2,469.5 v1.6 M365.2,320.8 v1.6 M376.1,469.5 v2.8 M376.1,320.8 v2.8 M387.0,469.5 v1.6 M387.0,320.8 v1.6 M397.9,469.5 v2.8 M397.9,320.8 v2.8 M408.8,469.5 v1.6 M408.8,320.8 v1.6 M419.7,469.5 v2.8 M419.7,320.8 v2.8 M430.6,469.5 v1.6 M430.6,320.8 v1.6 M441.5,469.5 v2.8 M441.5,320.8 v2.8 M452.4,469.5 v1.6 M452.4,320.8 v1.6 M463.3,469.5 v2.8 M463.3,320.8 v2.8 M474.2,469.5 v1.6 M474.2,320.8 v1.6 M485.1,469.5 v2.8 M485.1,320.8 v2.8 M496.0,469.5 v1.6 M496.0,320.8 v1.6 M506.9,469.5 v2.8 M506.9,320.8 v2.8 M517.8,469.5 v1.6 M517.8,320.8 v1.6 M528.7,469.5 v2.8 M528.7,320.8 v2.8" stroke="#333" stroke-width="0.8" fill="none"/>
<rect x="343.4" y="320.8" width="185.3" height="148.7" fill="none" stroke="#333" stroke-width="0.9"/>
<text x="340.60" y="336.90" font-family="'Liberation Serif', 'Times New Roman', serif" font-size="8" font-weight="normal" fill="#222" stroke="#222" stroke-width="0.12" text-anchor="end" >0</text>
<text x="340.60" y="363.98" font-family="'Liberation Serif', 'Times New Roman', serif" font-size="8" font-weight="normal" fill="#222" stroke="#222" stroke-width="0.12" text-anchor="end" >-10</text>
<text x="340.60" y="391.06" font-family="'Liberation Serif', 'Times New Roman', serif" font-size="8" font-weight="normal" fill="#222" stroke="#222" stroke-width="0.12" text-anchor="end" >-20</text>
<text x="340.60" y="418.14" font-family="'Liberation Serif', 'Times New Roman', serif" font-size="8" font-weight="normal" fill="#222" stroke="#222" stroke-width="0.12" text-anchor="end" >-30</text>
<text x="340.60" y="445.22" font-family="'Liberation Serif', 'Times New Roman', serif" font-size="8" font-weight="normal" fill="#222" stroke="#222" stroke-width="0.12" text-anchor="end" >-40</text>
<text x="340.60" y="472.30" font-family="'Liberation Serif', 'Times New Roman', serif" font-size="8" font-weight="normal" fill="#222" stroke="#222" stroke-width="0.12" text-anchor="end" >-50</text>
<text x="354.30" y="479.60" font-family="'Liberation Serif', 'Times New Roman', serif" font-size="8" font-weight="normal" fill="#222" stroke="#222" stroke-width="0.12" text-anchor="middle" >2</text>
<text x="376.10" y="479.60" font-family="'Liberation Serif', 'Times New Roman', serif" font-size="8" font-weight="normal" fill="#222" stroke="#222" stroke-width="0.12" text-anchor="middle" >4</text>
<text x="397.90" y="479.60" font-family="'Liberation Serif', 'Times New Roman', serif" font-size="8" font-weight="normal" fill="#222" stroke="#222" stroke-width="0.12" text-anchor="middle" >6</text>
<text x="419.70" y="479.60" font-family="'Liberation Serif', 'Times New Roman', serif" font-size="8" font-weight="normal" fill="#222" stroke="#222" stroke-width="0.12" text-anchor="middle" >8</text>
<text x="441.50" y="479.60" font-family="'Liberation Serif', 'Times New Roman', serif" font-size="8" font-weight="normal" fill="#222" stroke="#222" stroke-width="0.12" text-anchor="middle" >10</text>
<text x="463.30" y="479.60" font-family="'Liberation Serif', 'Times New Roman', serif" font-size="8" font-weight="normal" fill="#222" stroke="#222" stroke-width="0.12" text-anchor="middle" >12</text>
<text x="485.10" y="479.60" font-family="'Liberation Serif', 'Times New Roman', serif" font-size="8" font-weight="normal" fill="#222" stroke="#222" stroke-width="0.12" text-anchor="middle" >14</text>
<text x="506.90" y="479.60" font-family="'Liberation Serif', 'Times New Roman', serif" font-size="8" font-weight="normal" fill="#222" stroke="#222" stroke-width="0.12" text-anchor="middle" >16</text>
<text x="528.70" y="479.60" font-family="'Liberation Serif', 'Times New Roman', serif" font-size="8" font-weight="normal" fill="#222" stroke="#222" stroke-width="0.12" text-anchor="middle" >18</text>
<text transform="translate(323.6,429.4) rotate(-90)" font-family="'Liberation Serif', 'Times New Roman', serif" font-size="12.4" fill="#111" stroke="#111" stroke-width="0.3" textLength="76.8" lengthAdjust="spacingAndGlyphs">Reflection (dB)</text>
<text x="393.60" y="494.60" font-family="'Liberation Serif', 'Times New Roman', serif" font-size="12.4" font-weight="normal" fill="#111" textLength="87.00" lengthAdjust="spacingAndGlyphs" stroke="#111" stroke-width="0.3">Frequency (GHz)</text>
<rect x="351.2" y="399.1" width="31.6" height="63.3" fill="url(#inset)"/><rect x="351.2" y="401.4" width="7.6" height="9" fill="#ffffff"/><rect x="361.5" y="401.4" width="9" height="9" fill="#ffffff"/><rect x="373.9" y="401.4" width="8.9" height="9" fill="#ffffff"/><rect x="353.20" y="412.9" width="7.87" height="8.9" fill="#ffffff"/><rect x="363.07" y="412.9" width="7.87" height="8.9" fill="#ffffff"/><rect x="372.93" y="412.9" width="7.87" height="8.9" fill="#ffffff"/><rect x="353.80" y="424.2" width="4.65" height="7.0" fill="#ffffff"/><rect x="361.05" y="424.2" width="4.65" height="7.0" fill="#ffffff"/><rect x="368.30" y="424.2" width="4.65" height="7.0" fill="#ffffff"/><rect x="375.55" y="424.2" width="4.65" height="7.0" fill="#ffffff"/><rect x="354.00" y="433.8" width="4.40" height="6.4" fill="#ffffff"/><rect x="361.20" y="433.8" width="4.40" height="6.4" fill="#ffffff"/><rect x="368.40" y="433.8" width="4.40" height="6.4" fill="#ffffff"/><rect x="375.60" y="433.8" width="4.40" height="6.4" fill="#ffffff"/><rect x="354.10" y="442.8" width="2.84" height="4.8" fill="#ffffff"/><rect x="359.84" y="442.8" width="2.84" height="4.8" fill="#ffffff"/><rect x="365.58" y="442.8" width="2.84" height="4.8" fill="#ffffff"/><rect x="371.32" y="442.8" width="2.84" height="4.8" fill="#ffffff"/><rect x="377.06" y="442.8" width="2.84" height="4.8" fill="#ffffff"/><rect x="354.30" y="450.2" width="2.60" height="4.4" fill="#ffffff"/><rect x="360.00" y="450.2" width="2.60" height="4.4" fill="#ffffff"/><rect x="365.70" y="450.2" width="2.60" height="4.4" fill="#ffffff"/><rect x="371.40" y="450.2" width="2.60" height="4.4" fill="#ffffff"/><rect x="377.10" y="450.2" width="2.60" height="4.4" fill="#ffffff"/><rect x="353.40" y="457.2" width="2.00" height="2.8" fill="#ffffff"/><rect x="357.60" y="457.2" width="2.00" height="2.8" fill="#ffffff"/><rect x="361.80" y="457.2" width="2.00" height="2.8" fill="#ffffff"/><rect x="366.00" y="457.2" width="2.00" height="2.8" fill="#ffffff"/><rect x="370.20" y="457.2" width="2.00" height="2.8" fill="#ffffff"/><rect x="374.40" y="457.2" width="2.00" height="2.8" fill="#ffffff"/><rect x="378.60" y="457.2" width="2.00" height="2.8" fill="#ffffff"/>
<text x="395.30" y="407.60" font-family="'Liberation Serif', 'Times New Roman', serif" font-size="7.2" font-weight="bold" fill="#111" stroke="#111" stroke-width="0.22" text-anchor="middle" >A</text>
<text x="395.30" y="460.30" font-family="'Liberation Serif', 'Times New Roman', serif" font-size="7.2" font-weight="bold" fill="#111" stroke="#111" stroke-width="0.22" text-anchor="middle" >B</text>
<line x1="395.2" y1="411.5" x2="395.2" y2="446" stroke="#111" stroke-width="1.5"/><polygon points="393.2,445.5 397.2,445.5 395.2,450.3" fill="#111"/></svg></body></html>
